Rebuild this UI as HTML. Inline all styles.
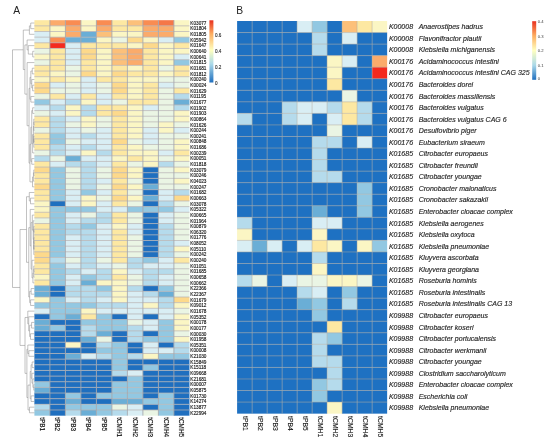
<!DOCTYPE html><html><head><meta charset="utf-8"><style>html,body{margin:0;padding:0;background:#fff;width:550px;height:442px;overflow:hidden}svg{display:block;will-change:transform}text{font-family:"Liberation Sans",sans-serif}</style></head><body>
<svg width="550" height="442" viewBox="0 0 550 442">
<rect x="0" y="0" width="550" height="442" fill="#fff"/>
<text x="13.3" y="13.6" font-size="10.3" fill="#222">A</text>
<text x="236.3" y="13.9" font-size="10.3" fill="#222">B</text>
<rect x="34.40" y="20.20" width="15.55" height="5.70" fill="#fde8a2"/>
<rect x="49.90" y="20.20" width="15.55" height="5.70" fill="#fbab6b"/>
<rect x="65.40" y="20.20" width="15.55" height="5.70" fill="#f98c52"/>
<rect x="80.90" y="20.20" width="15.55" height="5.70" fill="#fbf6c4"/>
<rect x="96.40" y="20.20" width="15.55" height="5.70" fill="#f98c52"/>
<rect x="111.90" y="20.20" width="15.55" height="5.70" fill="#fde8a2"/>
<rect x="127.40" y="20.20" width="15.55" height="5.70" fill="#fcc07a"/>
<rect x="142.90" y="20.20" width="15.55" height="5.70" fill="#f98c52"/>
<rect x="158.40" y="20.20" width="15.55" height="5.70" fill="#f57748"/>
<rect x="173.90" y="20.20" width="15.55" height="5.70" fill="#fbf6c4"/>
<rect x="34.40" y="25.85" width="15.55" height="5.70" fill="#fde8a2"/>
<rect x="49.90" y="25.85" width="15.55" height="5.70" fill="#fbf6c4"/>
<rect x="65.40" y="25.85" width="15.55" height="5.70" fill="#fbab6b"/>
<rect x="80.90" y="25.85" width="15.55" height="5.70" fill="#fbf6c4"/>
<rect x="96.40" y="25.85" width="15.55" height="5.70" fill="#fbab6b"/>
<rect x="111.90" y="25.85" width="15.55" height="5.70" fill="#fde8a2"/>
<rect x="127.40" y="25.85" width="15.55" height="5.70" fill="#fde8a2"/>
<rect x="142.90" y="25.85" width="15.55" height="5.70" fill="#fbab6b"/>
<rect x="158.40" y="25.85" width="15.55" height="5.70" fill="#fbab6b"/>
<rect x="173.90" y="25.85" width="15.55" height="5.70" fill="#fbf6c4"/>
<rect x="34.40" y="31.50" width="15.55" height="5.70" fill="#d9eef4"/>
<rect x="49.90" y="31.50" width="15.55" height="5.70" fill="#fbf6c4"/>
<rect x="65.40" y="31.50" width="15.55" height="5.70" fill="#fbab6b"/>
<rect x="80.90" y="31.50" width="15.55" height="5.70" fill="#6aaed6"/>
<rect x="96.40" y="31.50" width="15.55" height="5.70" fill="#fcc07a"/>
<rect x="111.90" y="31.50" width="15.55" height="5.70" fill="#fbf6c4"/>
<rect x="127.40" y="31.50" width="15.55" height="5.70" fill="#fbf6c4"/>
<rect x="142.90" y="31.50" width="15.55" height="5.70" fill="#fbab6b"/>
<rect x="158.40" y="31.50" width="15.55" height="5.70" fill="#fbab6b"/>
<rect x="173.90" y="31.50" width="15.55" height="5.70" fill="#fbf6c4"/>
<rect x="34.40" y="37.15" width="15.55" height="5.70" fill="#d9eef4"/>
<rect x="49.90" y="37.15" width="15.55" height="5.70" fill="#f98c52"/>
<rect x="65.40" y="37.15" width="15.55" height="5.70" fill="#6aaed6"/>
<rect x="80.90" y="37.15" width="15.55" height="5.70" fill="#6aaed6"/>
<rect x="96.40" y="37.15" width="15.55" height="5.70" fill="#fbf6c4"/>
<rect x="111.90" y="37.15" width="15.55" height="5.70" fill="#eaf5e4"/>
<rect x="127.40" y="37.15" width="15.55" height="5.70" fill="#fdd98b"/>
<rect x="142.90" y="37.15" width="15.55" height="5.70" fill="#fbf6c4"/>
<rect x="158.40" y="37.15" width="15.55" height="5.70" fill="#d9eef4"/>
<rect x="173.90" y="37.15" width="15.55" height="5.70" fill="#92c8e2"/>
<rect x="34.40" y="42.80" width="15.55" height="5.70" fill="#fde8a2"/>
<rect x="49.90" y="42.80" width="15.55" height="5.70" fill="#f42a1e"/>
<rect x="65.40" y="42.80" width="15.55" height="5.70" fill="#d9eef4"/>
<rect x="80.90" y="42.80" width="15.55" height="5.70" fill="#fde8a2"/>
<rect x="96.40" y="42.80" width="15.55" height="5.70" fill="#fde8a2"/>
<rect x="111.90" y="42.80" width="15.55" height="5.70" fill="#fde8a2"/>
<rect x="127.40" y="42.80" width="15.55" height="5.70" fill="#fbf6c4"/>
<rect x="142.90" y="42.80" width="15.55" height="5.70" fill="#fdd98b"/>
<rect x="158.40" y="42.80" width="15.55" height="5.70" fill="#fbf6c4"/>
<rect x="173.90" y="42.80" width="15.55" height="5.70" fill="#fde8a2"/>
<rect x="34.40" y="48.45" width="15.55" height="5.70" fill="#eaf5e4"/>
<rect x="49.90" y="48.45" width="15.55" height="5.70" fill="#fde8a2"/>
<rect x="65.40" y="48.45" width="15.55" height="5.70" fill="#d9eef4"/>
<rect x="80.90" y="48.45" width="15.55" height="5.70" fill="#fdd98b"/>
<rect x="96.40" y="48.45" width="15.55" height="5.70" fill="#fbf6c4"/>
<rect x="111.90" y="48.45" width="15.55" height="5.70" fill="#fcc07a"/>
<rect x="127.40" y="48.45" width="15.55" height="5.70" fill="#fbab6b"/>
<rect x="142.90" y="48.45" width="15.55" height="5.70" fill="#fde8a2"/>
<rect x="158.40" y="48.45" width="15.55" height="5.70" fill="#fbf6c4"/>
<rect x="173.90" y="48.45" width="15.55" height="5.70" fill="#fbf6c4"/>
<rect x="34.40" y="54.09" width="15.55" height="5.70" fill="#fbf6c4"/>
<rect x="49.90" y="54.09" width="15.55" height="5.70" fill="#fde8a2"/>
<rect x="65.40" y="54.09" width="15.55" height="5.70" fill="#d9eef4"/>
<rect x="80.90" y="54.09" width="15.55" height="5.70" fill="#fdd98b"/>
<rect x="96.40" y="54.09" width="15.55" height="5.70" fill="#fbf6c4"/>
<rect x="111.90" y="54.09" width="15.55" height="5.70" fill="#fcc07a"/>
<rect x="127.40" y="54.09" width="15.55" height="5.70" fill="#fbab6b"/>
<rect x="142.90" y="54.09" width="15.55" height="5.70" fill="#fde8a2"/>
<rect x="158.40" y="54.09" width="15.55" height="5.70" fill="#fbf6c4"/>
<rect x="173.90" y="54.09" width="15.55" height="5.70" fill="#d9eef4"/>
<rect x="34.40" y="59.74" width="15.55" height="5.70" fill="#eaf5e4"/>
<rect x="49.90" y="59.74" width="15.55" height="5.70" fill="#fde8a2"/>
<rect x="65.40" y="59.74" width="15.55" height="5.70" fill="#d9eef4"/>
<rect x="80.90" y="59.74" width="15.55" height="5.70" fill="#fde8a2"/>
<rect x="96.40" y="59.74" width="15.55" height="5.70" fill="#fbf6c4"/>
<rect x="111.90" y="59.74" width="15.55" height="5.70" fill="#fcc07a"/>
<rect x="127.40" y="59.74" width="15.55" height="5.70" fill="#fbab6b"/>
<rect x="142.90" y="59.74" width="15.55" height="5.70" fill="#fde8a2"/>
<rect x="158.40" y="59.74" width="15.55" height="5.70" fill="#fbf6c4"/>
<rect x="173.90" y="59.74" width="15.55" height="5.70" fill="#92c8e2"/>
<rect x="34.40" y="65.39" width="15.55" height="5.70" fill="#fde8a2"/>
<rect x="49.90" y="65.39" width="15.55" height="5.70" fill="#fde8a2"/>
<rect x="65.40" y="65.39" width="15.55" height="5.70" fill="#eaf5e4"/>
<rect x="80.90" y="65.39" width="15.55" height="5.70" fill="#fde8a2"/>
<rect x="96.40" y="65.39" width="15.55" height="5.70" fill="#fbf6c4"/>
<rect x="111.90" y="65.39" width="15.55" height="5.70" fill="#fde8a2"/>
<rect x="127.40" y="65.39" width="15.55" height="5.70" fill="#fbf6c4"/>
<rect x="142.90" y="65.39" width="15.55" height="5.70" fill="#fde8a2"/>
<rect x="158.40" y="65.39" width="15.55" height="5.70" fill="#eaf5e4"/>
<rect x="173.90" y="65.39" width="15.55" height="5.70" fill="#fde8a2"/>
<rect x="34.40" y="71.04" width="15.55" height="5.70" fill="#fde8a2"/>
<rect x="49.90" y="71.04" width="15.55" height="5.70" fill="#fbf6c4"/>
<rect x="65.40" y="71.04" width="15.55" height="5.70" fill="#eaf5e4"/>
<rect x="80.90" y="71.04" width="15.55" height="5.70" fill="#fdd98b"/>
<rect x="96.40" y="71.04" width="15.55" height="5.70" fill="#fbf6c4"/>
<rect x="111.90" y="71.04" width="15.55" height="5.70" fill="#fdd98b"/>
<rect x="127.40" y="71.04" width="15.55" height="5.70" fill="#fde8a2"/>
<rect x="142.90" y="71.04" width="15.55" height="5.70" fill="#fde8a2"/>
<rect x="158.40" y="71.04" width="15.55" height="5.70" fill="#fbf6c4"/>
<rect x="173.90" y="71.04" width="15.55" height="5.70" fill="#fde8a2"/>
<rect x="34.40" y="76.69" width="15.55" height="5.70" fill="#fbf6c4"/>
<rect x="49.90" y="76.69" width="15.55" height="5.70" fill="#fde8a2"/>
<rect x="65.40" y="76.69" width="15.55" height="5.70" fill="#fbf6c4"/>
<rect x="80.90" y="76.69" width="15.55" height="5.70" fill="#d9eef4"/>
<rect x="96.40" y="76.69" width="15.55" height="5.70" fill="#fde8a2"/>
<rect x="111.90" y="76.69" width="15.55" height="5.70" fill="#fde8a2"/>
<rect x="127.40" y="76.69" width="15.55" height="5.70" fill="#fbf6c4"/>
<rect x="142.90" y="76.69" width="15.55" height="5.70" fill="#fbf6c4"/>
<rect x="158.40" y="76.69" width="15.55" height="5.70" fill="#eaf5e4"/>
<rect x="173.90" y="76.69" width="15.55" height="5.70" fill="#eaf5e4"/>
<rect x="34.40" y="82.34" width="15.55" height="5.70" fill="#fdd98b"/>
<rect x="49.90" y="82.34" width="15.55" height="5.70" fill="#d9eef4"/>
<rect x="65.40" y="82.34" width="15.55" height="5.70" fill="#eaf5e4"/>
<rect x="80.90" y="82.34" width="15.55" height="5.70" fill="#d9eef4"/>
<rect x="96.40" y="82.34" width="15.55" height="5.70" fill="#eaf5e4"/>
<rect x="111.90" y="82.34" width="15.55" height="5.70" fill="#fdd98b"/>
<rect x="127.40" y="82.34" width="15.55" height="5.70" fill="#fbf6c4"/>
<rect x="142.90" y="82.34" width="15.55" height="5.70" fill="#fde8a2"/>
<rect x="158.40" y="82.34" width="15.55" height="5.70" fill="#d9eef4"/>
<rect x="173.90" y="82.34" width="15.55" height="5.70" fill="#eaf5e4"/>
<rect x="34.40" y="87.99" width="15.55" height="5.70" fill="#fdd98b"/>
<rect x="49.90" y="87.99" width="15.55" height="5.70" fill="#eaf5e4"/>
<rect x="65.40" y="87.99" width="15.55" height="5.70" fill="#eaf5e4"/>
<rect x="80.90" y="87.99" width="15.55" height="5.70" fill="#d9eef4"/>
<rect x="96.40" y="87.99" width="15.55" height="5.70" fill="#eaf5e4"/>
<rect x="111.90" y="87.99" width="15.55" height="5.70" fill="#fdd98b"/>
<rect x="127.40" y="87.99" width="15.55" height="5.70" fill="#fbf6c4"/>
<rect x="142.90" y="87.99" width="15.55" height="5.70" fill="#fde8a2"/>
<rect x="158.40" y="87.99" width="15.55" height="5.70" fill="#eaf5e4"/>
<rect x="173.90" y="87.99" width="15.55" height="5.70" fill="#fde8a2"/>
<rect x="34.40" y="93.64" width="15.55" height="5.70" fill="#eaf5e4"/>
<rect x="49.90" y="93.64" width="15.55" height="5.70" fill="#fde8a2"/>
<rect x="65.40" y="93.64" width="15.55" height="5.70" fill="#d9eef4"/>
<rect x="80.90" y="93.64" width="15.55" height="5.70" fill="#fde8a2"/>
<rect x="96.40" y="93.64" width="15.55" height="5.70" fill="#d9eef4"/>
<rect x="111.90" y="93.64" width="15.55" height="5.70" fill="#fde8a2"/>
<rect x="127.40" y="93.64" width="15.55" height="5.70" fill="#fbf6c4"/>
<rect x="142.90" y="93.64" width="15.55" height="5.70" fill="#fde8a2"/>
<rect x="158.40" y="93.64" width="15.55" height="5.70" fill="#eaf5e4"/>
<rect x="173.90" y="93.64" width="15.55" height="5.70" fill="#b5dbec"/>
<rect x="34.40" y="99.29" width="15.55" height="5.70" fill="#92c8e2"/>
<rect x="49.90" y="99.29" width="15.55" height="5.70" fill="#d9eef4"/>
<rect x="65.40" y="99.29" width="15.55" height="5.70" fill="#b5dbec"/>
<rect x="80.90" y="99.29" width="15.55" height="5.70" fill="#fbf6c4"/>
<rect x="96.40" y="99.29" width="15.55" height="5.70" fill="#d9eef4"/>
<rect x="111.90" y="99.29" width="15.55" height="5.70" fill="#eaf5e4"/>
<rect x="127.40" y="99.29" width="15.55" height="5.70" fill="#fde8a2"/>
<rect x="142.90" y="99.29" width="15.55" height="5.70" fill="#fde8a2"/>
<rect x="158.40" y="99.29" width="15.55" height="5.70" fill="#eaf5e4"/>
<rect x="173.90" y="99.29" width="15.55" height="5.70" fill="#6aaed6"/>
<rect x="34.40" y="104.94" width="15.55" height="5.70" fill="#d9eef4"/>
<rect x="49.90" y="104.94" width="15.55" height="5.70" fill="#b5dbec"/>
<rect x="65.40" y="104.94" width="15.55" height="5.70" fill="#fbf6c4"/>
<rect x="80.90" y="104.94" width="15.55" height="5.70" fill="#b5dbec"/>
<rect x="96.40" y="104.94" width="15.55" height="5.70" fill="#fde8a2"/>
<rect x="111.90" y="104.94" width="15.55" height="5.70" fill="#fde8a2"/>
<rect x="127.40" y="104.94" width="15.55" height="5.70" fill="#fbf6c4"/>
<rect x="142.90" y="104.94" width="15.55" height="5.70" fill="#d9eef4"/>
<rect x="158.40" y="104.94" width="15.55" height="5.70" fill="#eaf5e4"/>
<rect x="173.90" y="104.94" width="15.55" height="5.70" fill="#b5dbec"/>
<rect x="34.40" y="110.58" width="15.55" height="5.70" fill="#eaf5e4"/>
<rect x="49.90" y="110.58" width="15.55" height="5.70" fill="#d9eef4"/>
<rect x="65.40" y="110.58" width="15.55" height="5.70" fill="#fbf6c4"/>
<rect x="80.90" y="110.58" width="15.55" height="5.70" fill="#b5dbec"/>
<rect x="96.40" y="110.58" width="15.55" height="5.70" fill="#fde8a2"/>
<rect x="111.90" y="110.58" width="15.55" height="5.70" fill="#fdd98b"/>
<rect x="127.40" y="110.58" width="15.55" height="5.70" fill="#fbf6c4"/>
<rect x="142.90" y="110.58" width="15.55" height="5.70" fill="#eaf5e4"/>
<rect x="158.40" y="110.58" width="15.55" height="5.70" fill="#eaf5e4"/>
<rect x="173.90" y="110.58" width="15.55" height="5.70" fill="#fbf6c4"/>
<rect x="34.40" y="116.23" width="15.55" height="5.70" fill="#fde8a2"/>
<rect x="49.90" y="116.23" width="15.55" height="5.70" fill="#b5dbec"/>
<rect x="65.40" y="116.23" width="15.55" height="5.70" fill="#d9eef4"/>
<rect x="80.90" y="116.23" width="15.55" height="5.70" fill="#fbf6c4"/>
<rect x="96.40" y="116.23" width="15.55" height="5.70" fill="#eaf5e4"/>
<rect x="111.90" y="116.23" width="15.55" height="5.70" fill="#fde8a2"/>
<rect x="127.40" y="116.23" width="15.55" height="5.70" fill="#fbf6c4"/>
<rect x="142.90" y="116.23" width="15.55" height="5.70" fill="#eaf5e4"/>
<rect x="158.40" y="116.23" width="15.55" height="5.70" fill="#eaf5e4"/>
<rect x="173.90" y="116.23" width="15.55" height="5.70" fill="#fbf6c4"/>
<rect x="34.40" y="121.88" width="15.55" height="5.70" fill="#fde8a2"/>
<rect x="49.90" y="121.88" width="15.55" height="5.70" fill="#b5dbec"/>
<rect x="65.40" y="121.88" width="15.55" height="5.70" fill="#eaf5e4"/>
<rect x="80.90" y="121.88" width="15.55" height="5.70" fill="#fbf6c4"/>
<rect x="96.40" y="121.88" width="15.55" height="5.70" fill="#eaf5e4"/>
<rect x="111.90" y="121.88" width="15.55" height="5.70" fill="#fde8a2"/>
<rect x="127.40" y="121.88" width="15.55" height="5.70" fill="#fbf6c4"/>
<rect x="142.90" y="121.88" width="15.55" height="5.70" fill="#eaf5e4"/>
<rect x="158.40" y="121.88" width="15.55" height="5.70" fill="#fbf6c4"/>
<rect x="173.90" y="121.88" width="15.55" height="5.70" fill="#eaf5e4"/>
<rect x="34.40" y="127.53" width="15.55" height="5.70" fill="#eaf5e4"/>
<rect x="49.90" y="127.53" width="15.55" height="5.70" fill="#b5dbec"/>
<rect x="65.40" y="127.53" width="15.55" height="5.70" fill="#d9eef4"/>
<rect x="80.90" y="127.53" width="15.55" height="5.70" fill="#eaf5e4"/>
<rect x="96.40" y="127.53" width="15.55" height="5.70" fill="#d9eef4"/>
<rect x="111.90" y="127.53" width="15.55" height="5.70" fill="#fde8a2"/>
<rect x="127.40" y="127.53" width="15.55" height="5.70" fill="#fbf6c4"/>
<rect x="142.90" y="127.53" width="15.55" height="5.70" fill="#d9eef4"/>
<rect x="158.40" y="127.53" width="15.55" height="5.70" fill="#fbf6c4"/>
<rect x="173.90" y="127.53" width="15.55" height="5.70" fill="#d9eef4"/>
<rect x="34.40" y="133.18" width="15.55" height="5.70" fill="#fde8a2"/>
<rect x="49.90" y="133.18" width="15.55" height="5.70" fill="#92c8e2"/>
<rect x="65.40" y="133.18" width="15.55" height="5.70" fill="#d9eef4"/>
<rect x="80.90" y="133.18" width="15.55" height="5.70" fill="#b5dbec"/>
<rect x="96.40" y="133.18" width="15.55" height="5.70" fill="#d9eef4"/>
<rect x="111.90" y="133.18" width="15.55" height="5.70" fill="#fde8a2"/>
<rect x="127.40" y="133.18" width="15.55" height="5.70" fill="#fbf6c4"/>
<rect x="142.90" y="133.18" width="15.55" height="5.70" fill="#d9eef4"/>
<rect x="158.40" y="133.18" width="15.55" height="5.70" fill="#eaf5e4"/>
<rect x="173.90" y="133.18" width="15.55" height="5.70" fill="#eaf5e4"/>
<rect x="34.40" y="138.83" width="15.55" height="5.70" fill="#fde8a2"/>
<rect x="49.90" y="138.83" width="15.55" height="5.70" fill="#92c8e2"/>
<rect x="65.40" y="138.83" width="15.55" height="5.70" fill="#eaf5e4"/>
<rect x="80.90" y="138.83" width="15.55" height="5.70" fill="#d9eef4"/>
<rect x="96.40" y="138.83" width="15.55" height="5.70" fill="#d9eef4"/>
<rect x="111.90" y="138.83" width="15.55" height="5.70" fill="#fdd98b"/>
<rect x="127.40" y="138.83" width="15.55" height="5.70" fill="#eaf5e4"/>
<rect x="142.90" y="138.83" width="15.55" height="5.70" fill="#d9eef4"/>
<rect x="158.40" y="138.83" width="15.55" height="5.70" fill="#eaf5e4"/>
<rect x="173.90" y="138.83" width="15.55" height="5.70" fill="#fbf6c4"/>
<rect x="34.40" y="144.48" width="15.55" height="5.70" fill="#fde8a2"/>
<rect x="49.90" y="144.48" width="15.55" height="5.70" fill="#b5dbec"/>
<rect x="65.40" y="144.48" width="15.55" height="5.70" fill="#d9eef4"/>
<rect x="80.90" y="144.48" width="15.55" height="5.70" fill="#b5dbec"/>
<rect x="96.40" y="144.48" width="15.55" height="5.70" fill="#d9eef4"/>
<rect x="111.90" y="144.48" width="15.55" height="5.70" fill="#fde8a2"/>
<rect x="127.40" y="144.48" width="15.55" height="5.70" fill="#fbf6c4"/>
<rect x="142.90" y="144.48" width="15.55" height="5.70" fill="#eaf5e4"/>
<rect x="158.40" y="144.48" width="15.55" height="5.70" fill="#eaf5e4"/>
<rect x="173.90" y="144.48" width="15.55" height="5.70" fill="#fbf6c4"/>
<rect x="34.40" y="150.13" width="15.55" height="5.70" fill="#eaf5e4"/>
<rect x="49.90" y="150.13" width="15.55" height="5.70" fill="#b5dbec"/>
<rect x="65.40" y="150.13" width="15.55" height="5.70" fill="#d9eef4"/>
<rect x="80.90" y="150.13" width="15.55" height="5.70" fill="#fbf6c4"/>
<rect x="96.40" y="150.13" width="15.55" height="5.70" fill="#b5dbec"/>
<rect x="111.90" y="150.13" width="15.55" height="5.70" fill="#fde8a2"/>
<rect x="127.40" y="150.13" width="15.55" height="5.70" fill="#fbf6c4"/>
<rect x="142.90" y="150.13" width="15.55" height="5.70" fill="#fbf6c4"/>
<rect x="158.40" y="150.13" width="15.55" height="5.70" fill="#d9eef4"/>
<rect x="173.90" y="150.13" width="15.55" height="5.70" fill="#fde8a2"/>
<rect x="34.40" y="155.78" width="15.55" height="5.70" fill="#b5dbec"/>
<rect x="49.90" y="155.78" width="15.55" height="5.70" fill="#eaf5e4"/>
<rect x="65.40" y="155.78" width="15.55" height="5.70" fill="#6aaed6"/>
<rect x="80.90" y="155.78" width="15.55" height="5.70" fill="#d9eef4"/>
<rect x="96.40" y="155.78" width="15.55" height="5.70" fill="#d9eef4"/>
<rect x="111.90" y="155.78" width="15.55" height="5.70" fill="#fbf6c4"/>
<rect x="127.40" y="155.78" width="15.55" height="5.70" fill="#fde8a2"/>
<rect x="142.90" y="155.78" width="15.55" height="5.70" fill="#fbf6c4"/>
<rect x="158.40" y="155.78" width="15.55" height="5.70" fill="#eaf5e4"/>
<rect x="173.90" y="155.78" width="15.55" height="5.70" fill="#fbf6c4"/>
<rect x="34.40" y="161.42" width="15.55" height="5.70" fill="#fde8a2"/>
<rect x="49.90" y="161.42" width="15.55" height="5.70" fill="#d9eef4"/>
<rect x="65.40" y="161.42" width="15.55" height="5.70" fill="#b5dbec"/>
<rect x="80.90" y="161.42" width="15.55" height="5.70" fill="#b5dbec"/>
<rect x="96.40" y="161.42" width="15.55" height="5.70" fill="#d9eef4"/>
<rect x="111.90" y="161.42" width="15.55" height="5.70" fill="#fde8a2"/>
<rect x="127.40" y="161.42" width="15.55" height="5.70" fill="#eaf5e4"/>
<rect x="142.90" y="161.42" width="15.55" height="5.70" fill="#fbf6c4"/>
<rect x="158.40" y="161.42" width="15.55" height="5.70" fill="#b5dbec"/>
<rect x="173.90" y="161.42" width="15.55" height="5.70" fill="#eaf5e4"/>
<rect x="34.40" y="167.07" width="15.55" height="5.70" fill="#fdd98b"/>
<rect x="49.90" y="167.07" width="15.55" height="5.70" fill="#92c8e2"/>
<rect x="65.40" y="167.07" width="15.55" height="5.70" fill="#eaf5e4"/>
<rect x="80.90" y="167.07" width="15.55" height="5.70" fill="#b5dbec"/>
<rect x="96.40" y="167.07" width="15.55" height="5.70" fill="#eaf5e4"/>
<rect x="111.90" y="167.07" width="15.55" height="5.70" fill="#fdd98b"/>
<rect x="127.40" y="167.07" width="15.55" height="5.70" fill="#fbf6c4"/>
<rect x="142.90" y="167.07" width="15.55" height="5.70" fill="#1f6fbf"/>
<rect x="158.40" y="167.07" width="15.55" height="5.70" fill="#eaf5e4"/>
<rect x="173.90" y="167.07" width="15.55" height="5.70" fill="#fbf6c4"/>
<rect x="34.40" y="172.72" width="15.55" height="5.70" fill="#fde8a2"/>
<rect x="49.90" y="172.72" width="15.55" height="5.70" fill="#92c8e2"/>
<rect x="65.40" y="172.72" width="15.55" height="5.70" fill="#eaf5e4"/>
<rect x="80.90" y="172.72" width="15.55" height="5.70" fill="#b5dbec"/>
<rect x="96.40" y="172.72" width="15.55" height="5.70" fill="#eaf5e4"/>
<rect x="111.90" y="172.72" width="15.55" height="5.70" fill="#fdd98b"/>
<rect x="127.40" y="172.72" width="15.55" height="5.70" fill="#fbf6c4"/>
<rect x="142.90" y="172.72" width="15.55" height="5.70" fill="#1f6fbf"/>
<rect x="158.40" y="172.72" width="15.55" height="5.70" fill="#eaf5e4"/>
<rect x="173.90" y="172.72" width="15.55" height="5.70" fill="#eaf5e4"/>
<rect x="34.40" y="178.37" width="15.55" height="5.70" fill="#fde8a2"/>
<rect x="49.90" y="178.37" width="15.55" height="5.70" fill="#92c8e2"/>
<rect x="65.40" y="178.37" width="15.55" height="5.70" fill="#eaf5e4"/>
<rect x="80.90" y="178.37" width="15.55" height="5.70" fill="#b5dbec"/>
<rect x="96.40" y="178.37" width="15.55" height="5.70" fill="#d9eef4"/>
<rect x="111.90" y="178.37" width="15.55" height="5.70" fill="#fde8a2"/>
<rect x="127.40" y="178.37" width="15.55" height="5.70" fill="#eaf5e4"/>
<rect x="142.90" y="178.37" width="15.55" height="5.70" fill="#1f6fbf"/>
<rect x="158.40" y="178.37" width="15.55" height="5.70" fill="#eaf5e4"/>
<rect x="173.90" y="178.37" width="15.55" height="5.70" fill="#fbf6c4"/>
<rect x="34.40" y="184.02" width="15.55" height="5.70" fill="#fdd98b"/>
<rect x="49.90" y="184.02" width="15.55" height="5.70" fill="#92c8e2"/>
<rect x="65.40" y="184.02" width="15.55" height="5.70" fill="#eaf5e4"/>
<rect x="80.90" y="184.02" width="15.55" height="5.70" fill="#b5dbec"/>
<rect x="96.40" y="184.02" width="15.55" height="5.70" fill="#eaf5e4"/>
<rect x="111.90" y="184.02" width="15.55" height="5.70" fill="#fdd98b"/>
<rect x="127.40" y="184.02" width="15.55" height="5.70" fill="#fbf6c4"/>
<rect x="142.90" y="184.02" width="15.55" height="5.70" fill="#6aaed6"/>
<rect x="158.40" y="184.02" width="15.55" height="5.70" fill="#eaf5e4"/>
<rect x="173.90" y="184.02" width="15.55" height="5.70" fill="#eaf5e4"/>
<rect x="34.40" y="189.67" width="15.55" height="5.70" fill="#fde8a2"/>
<rect x="49.90" y="189.67" width="15.55" height="5.70" fill="#92c8e2"/>
<rect x="65.40" y="189.67" width="15.55" height="5.70" fill="#d9eef4"/>
<rect x="80.90" y="189.67" width="15.55" height="5.70" fill="#92c8e2"/>
<rect x="96.40" y="189.67" width="15.55" height="5.70" fill="#d9eef4"/>
<rect x="111.90" y="189.67" width="15.55" height="5.70" fill="#fde8a2"/>
<rect x="127.40" y="189.67" width="15.55" height="5.70" fill="#eaf5e4"/>
<rect x="142.90" y="189.67" width="15.55" height="5.70" fill="#1f6fbf"/>
<rect x="158.40" y="189.67" width="15.55" height="5.70" fill="#d9eef4"/>
<rect x="173.90" y="189.67" width="15.55" height="5.70" fill="#b5dbec"/>
<rect x="34.40" y="195.32" width="15.55" height="5.70" fill="#fde8a2"/>
<rect x="49.90" y="195.32" width="15.55" height="5.70" fill="#92c8e2"/>
<rect x="65.40" y="195.32" width="15.55" height="5.70" fill="#d9eef4"/>
<rect x="80.90" y="195.32" width="15.55" height="5.70" fill="#fbf6c4"/>
<rect x="96.40" y="195.32" width="15.55" height="5.70" fill="#eaf5e4"/>
<rect x="111.90" y="195.32" width="15.55" height="5.70" fill="#fdd98b"/>
<rect x="127.40" y="195.32" width="15.55" height="5.70" fill="#fbf6c4"/>
<rect x="142.90" y="195.32" width="15.55" height="5.70" fill="#6aaed6"/>
<rect x="158.40" y="195.32" width="15.55" height="5.70" fill="#d9eef4"/>
<rect x="173.90" y="195.32" width="15.55" height="5.70" fill="#fdd98b"/>
<rect x="34.40" y="200.97" width="15.55" height="5.70" fill="#fbf6c4"/>
<rect x="49.90" y="200.97" width="15.55" height="5.70" fill="#1f6fbf"/>
<rect x="65.40" y="200.97" width="15.55" height="5.70" fill="#d9eef4"/>
<rect x="80.90" y="200.97" width="15.55" height="5.70" fill="#fbf6c4"/>
<rect x="96.40" y="200.97" width="15.55" height="5.70" fill="#d9eef4"/>
<rect x="111.90" y="200.97" width="15.55" height="5.70" fill="#fde8a2"/>
<rect x="127.40" y="200.97" width="15.55" height="5.70" fill="#eaf5e4"/>
<rect x="142.90" y="200.97" width="15.55" height="5.70" fill="#1f6fbf"/>
<rect x="158.40" y="200.97" width="15.55" height="5.70" fill="#b5dbec"/>
<rect x="173.90" y="200.97" width="15.55" height="5.70" fill="#eaf5e4"/>
<rect x="34.40" y="206.62" width="15.55" height="5.70" fill="#fbf6c4"/>
<rect x="49.90" y="206.62" width="15.55" height="5.70" fill="#92c8e2"/>
<rect x="65.40" y="206.62" width="15.55" height="5.70" fill="#92c8e2"/>
<rect x="80.90" y="206.62" width="15.55" height="5.70" fill="#92c8e2"/>
<rect x="96.40" y="206.62" width="15.55" height="5.70" fill="#d9eef4"/>
<rect x="111.90" y="206.62" width="15.55" height="5.70" fill="#d9eef4"/>
<rect x="127.40" y="206.62" width="15.55" height="5.70" fill="#92c8e2"/>
<rect x="142.90" y="206.62" width="15.55" height="5.70" fill="#92c8e2"/>
<rect x="158.40" y="206.62" width="15.55" height="5.70" fill="#92c8e2"/>
<rect x="173.90" y="206.62" width="15.55" height="5.70" fill="#d9eef4"/>
<rect x="34.40" y="212.27" width="15.55" height="5.70" fill="#fde8a2"/>
<rect x="49.90" y="212.27" width="15.55" height="5.70" fill="#92c8e2"/>
<rect x="65.40" y="212.27" width="15.55" height="5.70" fill="#d9eef4"/>
<rect x="80.90" y="212.27" width="15.55" height="5.70" fill="#eaf5e4"/>
<rect x="96.40" y="212.27" width="15.55" height="5.70" fill="#b5dbec"/>
<rect x="111.90" y="212.27" width="15.55" height="5.70" fill="#fde8a2"/>
<rect x="127.40" y="212.27" width="15.55" height="5.70" fill="#eaf5e4"/>
<rect x="142.90" y="212.27" width="15.55" height="5.70" fill="#1f6fbf"/>
<rect x="158.40" y="212.27" width="15.55" height="5.70" fill="#d9eef4"/>
<rect x="173.90" y="212.27" width="15.55" height="5.70" fill="#eaf5e4"/>
<rect x="34.40" y="217.91" width="15.55" height="5.70" fill="#eaf5e4"/>
<rect x="49.90" y="217.91" width="15.55" height="5.70" fill="#92c8e2"/>
<rect x="65.40" y="217.91" width="15.55" height="5.70" fill="#d9eef4"/>
<rect x="80.90" y="217.91" width="15.55" height="5.70" fill="#b5dbec"/>
<rect x="96.40" y="217.91" width="15.55" height="5.70" fill="#b5dbec"/>
<rect x="111.90" y="217.91" width="15.55" height="5.70" fill="#fde8a2"/>
<rect x="127.40" y="217.91" width="15.55" height="5.70" fill="#eaf5e4"/>
<rect x="142.90" y="217.91" width="15.55" height="5.70" fill="#1f6fbf"/>
<rect x="158.40" y="217.91" width="15.55" height="5.70" fill="#d9eef4"/>
<rect x="173.90" y="217.91" width="15.55" height="5.70" fill="#eaf5e4"/>
<rect x="34.40" y="223.56" width="15.55" height="5.70" fill="#fde8a2"/>
<rect x="49.90" y="223.56" width="15.55" height="5.70" fill="#92c8e2"/>
<rect x="65.40" y="223.56" width="15.55" height="5.70" fill="#b5dbec"/>
<rect x="80.90" y="223.56" width="15.55" height="5.70" fill="#92c8e2"/>
<rect x="96.40" y="223.56" width="15.55" height="5.70" fill="#d9eef4"/>
<rect x="111.90" y="223.56" width="15.55" height="5.70" fill="#fbf6c4"/>
<rect x="127.40" y="223.56" width="15.55" height="5.70" fill="#d9eef4"/>
<rect x="142.90" y="223.56" width="15.55" height="5.70" fill="#1f6fbf"/>
<rect x="158.40" y="223.56" width="15.55" height="5.70" fill="#b5dbec"/>
<rect x="173.90" y="223.56" width="15.55" height="5.70" fill="#eaf5e4"/>
<rect x="34.40" y="229.21" width="15.55" height="5.70" fill="#fde8a2"/>
<rect x="49.90" y="229.21" width="15.55" height="5.70" fill="#92c8e2"/>
<rect x="65.40" y="229.21" width="15.55" height="5.70" fill="#b5dbec"/>
<rect x="80.90" y="229.21" width="15.55" height="5.70" fill="#b5dbec"/>
<rect x="96.40" y="229.21" width="15.55" height="5.70" fill="#d9eef4"/>
<rect x="111.90" y="229.21" width="15.55" height="5.70" fill="#fde8a2"/>
<rect x="127.40" y="229.21" width="15.55" height="5.70" fill="#d9eef4"/>
<rect x="142.90" y="229.21" width="15.55" height="5.70" fill="#1f6fbf"/>
<rect x="158.40" y="229.21" width="15.55" height="5.70" fill="#b5dbec"/>
<rect x="173.90" y="229.21" width="15.55" height="5.70" fill="#eaf5e4"/>
<rect x="34.40" y="234.86" width="15.55" height="5.70" fill="#fde8a2"/>
<rect x="49.90" y="234.86" width="15.55" height="5.70" fill="#92c8e2"/>
<rect x="65.40" y="234.86" width="15.55" height="5.70" fill="#d9eef4"/>
<rect x="80.90" y="234.86" width="15.55" height="5.70" fill="#b5dbec"/>
<rect x="96.40" y="234.86" width="15.55" height="5.70" fill="#d9eef4"/>
<rect x="111.90" y="234.86" width="15.55" height="5.70" fill="#fde8a2"/>
<rect x="127.40" y="234.86" width="15.55" height="5.70" fill="#eaf5e4"/>
<rect x="142.90" y="234.86" width="15.55" height="5.70" fill="#1f6fbf"/>
<rect x="158.40" y="234.86" width="15.55" height="5.70" fill="#b5dbec"/>
<rect x="173.90" y="234.86" width="15.55" height="5.70" fill="#eaf5e4"/>
<rect x="34.40" y="240.51" width="15.55" height="5.70" fill="#fde8a2"/>
<rect x="49.90" y="240.51" width="15.55" height="5.70" fill="#92c8e2"/>
<rect x="65.40" y="240.51" width="15.55" height="5.70" fill="#d9eef4"/>
<rect x="80.90" y="240.51" width="15.55" height="5.70" fill="#b5dbec"/>
<rect x="96.40" y="240.51" width="15.55" height="5.70" fill="#d9eef4"/>
<rect x="111.90" y="240.51" width="15.55" height="5.70" fill="#fde8a2"/>
<rect x="127.40" y="240.51" width="15.55" height="5.70" fill="#eaf5e4"/>
<rect x="142.90" y="240.51" width="15.55" height="5.70" fill="#1f6fbf"/>
<rect x="158.40" y="240.51" width="15.55" height="5.70" fill="#b5dbec"/>
<rect x="173.90" y="240.51" width="15.55" height="5.70" fill="#d9eef4"/>
<rect x="34.40" y="246.16" width="15.55" height="5.70" fill="#fde8a2"/>
<rect x="49.90" y="246.16" width="15.55" height="5.70" fill="#92c8e2"/>
<rect x="65.40" y="246.16" width="15.55" height="5.70" fill="#d9eef4"/>
<rect x="80.90" y="246.16" width="15.55" height="5.70" fill="#b5dbec"/>
<rect x="96.40" y="246.16" width="15.55" height="5.70" fill="#d9eef4"/>
<rect x="111.90" y="246.16" width="15.55" height="5.70" fill="#fde8a2"/>
<rect x="127.40" y="246.16" width="15.55" height="5.70" fill="#eaf5e4"/>
<rect x="142.90" y="246.16" width="15.55" height="5.70" fill="#1f6fbf"/>
<rect x="158.40" y="246.16" width="15.55" height="5.70" fill="#b5dbec"/>
<rect x="173.90" y="246.16" width="15.55" height="5.70" fill="#fbf6c4"/>
<rect x="34.40" y="251.81" width="15.55" height="5.70" fill="#fdd98b"/>
<rect x="49.90" y="251.81" width="15.55" height="5.70" fill="#92c8e2"/>
<rect x="65.40" y="251.81" width="15.55" height="5.70" fill="#d9eef4"/>
<rect x="80.90" y="251.81" width="15.55" height="5.70" fill="#b5dbec"/>
<rect x="96.40" y="251.81" width="15.55" height="5.70" fill="#d9eef4"/>
<rect x="111.90" y="251.81" width="15.55" height="5.70" fill="#fde8a2"/>
<rect x="127.40" y="251.81" width="15.55" height="5.70" fill="#eaf5e4"/>
<rect x="142.90" y="251.81" width="15.55" height="5.70" fill="#1f6fbf"/>
<rect x="158.40" y="251.81" width="15.55" height="5.70" fill="#b5dbec"/>
<rect x="173.90" y="251.81" width="15.55" height="5.70" fill="#eaf5e4"/>
<rect x="34.40" y="257.46" width="15.55" height="5.70" fill="#fdd98b"/>
<rect x="49.90" y="257.46" width="15.55" height="5.70" fill="#b5dbec"/>
<rect x="65.40" y="257.46" width="15.55" height="5.70" fill="#eaf5e4"/>
<rect x="80.90" y="257.46" width="15.55" height="5.70" fill="#b5dbec"/>
<rect x="96.40" y="257.46" width="15.55" height="5.70" fill="#eaf5e4"/>
<rect x="111.90" y="257.46" width="15.55" height="5.70" fill="#fde8a2"/>
<rect x="127.40" y="257.46" width="15.55" height="5.70" fill="#b5dbec"/>
<rect x="142.90" y="257.46" width="15.55" height="5.70" fill="#92c8e2"/>
<rect x="158.40" y="257.46" width="15.55" height="5.70" fill="#d9eef4"/>
<rect x="173.90" y="257.46" width="15.55" height="5.70" fill="#fde8a2"/>
<rect x="34.40" y="263.11" width="15.55" height="5.70" fill="#fde8a2"/>
<rect x="49.90" y="263.11" width="15.55" height="5.70" fill="#92c8e2"/>
<rect x="65.40" y="263.11" width="15.55" height="5.70" fill="#d9eef4"/>
<rect x="80.90" y="263.11" width="15.55" height="5.70" fill="#b5dbec"/>
<rect x="96.40" y="263.11" width="15.55" height="5.70" fill="#d9eef4"/>
<rect x="111.90" y="263.11" width="15.55" height="5.70" fill="#eaf5e4"/>
<rect x="127.40" y="263.11" width="15.55" height="5.70" fill="#b5dbec"/>
<rect x="142.90" y="263.11" width="15.55" height="5.70" fill="#d9eef4"/>
<rect x="158.40" y="263.11" width="15.55" height="5.70" fill="#d9eef4"/>
<rect x="173.90" y="263.11" width="15.55" height="5.70" fill="#eaf5e4"/>
<rect x="34.40" y="268.76" width="15.55" height="5.70" fill="#fde8a2"/>
<rect x="49.90" y="268.76" width="15.55" height="5.70" fill="#92c8e2"/>
<rect x="65.40" y="268.76" width="15.55" height="5.70" fill="#b5dbec"/>
<rect x="80.90" y="268.76" width="15.55" height="5.70" fill="#d9eef4"/>
<rect x="96.40" y="268.76" width="15.55" height="5.70" fill="#b5dbec"/>
<rect x="111.90" y="268.76" width="15.55" height="5.70" fill="#fbf6c4"/>
<rect x="127.40" y="268.76" width="15.55" height="5.70" fill="#d9eef4"/>
<rect x="142.90" y="268.76" width="15.55" height="5.70" fill="#b5dbec"/>
<rect x="158.40" y="268.76" width="15.55" height="5.70" fill="#b5dbec"/>
<rect x="173.90" y="268.76" width="15.55" height="5.70" fill="#eaf5e4"/>
<rect x="34.40" y="274.41" width="15.55" height="5.70" fill="#fbf6c4"/>
<rect x="49.90" y="274.41" width="15.55" height="5.70" fill="#92c8e2"/>
<rect x="65.40" y="274.41" width="15.55" height="5.70" fill="#d9eef4"/>
<rect x="80.90" y="274.41" width="15.55" height="5.70" fill="#92c8e2"/>
<rect x="96.40" y="274.41" width="15.55" height="5.70" fill="#b5dbec"/>
<rect x="111.90" y="274.41" width="15.55" height="5.70" fill="#fde8a2"/>
<rect x="127.40" y="274.41" width="15.55" height="5.70" fill="#eaf5e4"/>
<rect x="142.90" y="274.41" width="15.55" height="5.70" fill="#b5dbec"/>
<rect x="158.40" y="274.41" width="15.55" height="5.70" fill="#d9eef4"/>
<rect x="173.90" y="274.41" width="15.55" height="5.70" fill="#eaf5e4"/>
<rect x="34.40" y="280.05" width="15.55" height="5.70" fill="#fde8a2"/>
<rect x="49.90" y="280.05" width="15.55" height="5.70" fill="#92c8e2"/>
<rect x="65.40" y="280.05" width="15.55" height="5.70" fill="#d9eef4"/>
<rect x="80.90" y="280.05" width="15.55" height="5.70" fill="#6aaed6"/>
<rect x="96.40" y="280.05" width="15.55" height="5.70" fill="#fbf6c4"/>
<rect x="111.90" y="280.05" width="15.55" height="5.70" fill="#fbf6c4"/>
<rect x="127.40" y="280.05" width="15.55" height="5.70" fill="#eaf5e4"/>
<rect x="142.90" y="280.05" width="15.55" height="5.70" fill="#b5dbec"/>
<rect x="158.40" y="280.05" width="15.55" height="5.70" fill="#d9eef4"/>
<rect x="173.90" y="280.05" width="15.55" height="5.70" fill="#eaf5e4"/>
<rect x="34.40" y="285.70" width="15.55" height="5.70" fill="#6aaed6"/>
<rect x="49.90" y="285.70" width="15.55" height="5.70" fill="#1f6fbf"/>
<rect x="65.40" y="285.70" width="15.55" height="5.70" fill="#b5dbec"/>
<rect x="80.90" y="285.70" width="15.55" height="5.70" fill="#b5dbec"/>
<rect x="96.40" y="285.70" width="15.55" height="5.70" fill="#92c8e2"/>
<rect x="111.90" y="285.70" width="15.55" height="5.70" fill="#fbf6c4"/>
<rect x="127.40" y="285.70" width="15.55" height="5.70" fill="#b5dbec"/>
<rect x="142.90" y="285.70" width="15.55" height="5.70" fill="#1f6fbf"/>
<rect x="158.40" y="285.70" width="15.55" height="5.70" fill="#92c8e2"/>
<rect x="173.90" y="285.70" width="15.55" height="5.70" fill="#eaf5e4"/>
<rect x="34.40" y="291.35" width="15.55" height="5.70" fill="#6aaed6"/>
<rect x="49.90" y="291.35" width="15.55" height="5.70" fill="#1f6fbf"/>
<rect x="65.40" y="291.35" width="15.55" height="5.70" fill="#b5dbec"/>
<rect x="80.90" y="291.35" width="15.55" height="5.70" fill="#b5dbec"/>
<rect x="96.40" y="291.35" width="15.55" height="5.70" fill="#b5dbec"/>
<rect x="111.90" y="291.35" width="15.55" height="5.70" fill="#fbf6c4"/>
<rect x="127.40" y="291.35" width="15.55" height="5.70" fill="#d9eef4"/>
<rect x="142.90" y="291.35" width="15.55" height="5.70" fill="#b5dbec"/>
<rect x="158.40" y="291.35" width="15.55" height="5.70" fill="#6aaed6"/>
<rect x="173.90" y="291.35" width="15.55" height="5.70" fill="#eaf5e4"/>
<rect x="34.40" y="297.00" width="15.55" height="5.70" fill="#fbf6c4"/>
<rect x="49.90" y="297.00" width="15.55" height="5.70" fill="#92c8e2"/>
<rect x="65.40" y="297.00" width="15.55" height="5.70" fill="#d9eef4"/>
<rect x="80.90" y="297.00" width="15.55" height="5.70" fill="#b5dbec"/>
<rect x="96.40" y="297.00" width="15.55" height="5.70" fill="#d9eef4"/>
<rect x="111.90" y="297.00" width="15.55" height="5.70" fill="#fbf6c4"/>
<rect x="127.40" y="297.00" width="15.55" height="5.70" fill="#d9eef4"/>
<rect x="142.90" y="297.00" width="15.55" height="5.70" fill="#d9eef4"/>
<rect x="158.40" y="297.00" width="15.55" height="5.70" fill="#b5dbec"/>
<rect x="173.90" y="297.00" width="15.55" height="5.70" fill="#fdd98b"/>
<rect x="34.40" y="302.65" width="15.55" height="5.70" fill="#92c8e2"/>
<rect x="49.90" y="302.65" width="15.55" height="5.70" fill="#92c8e2"/>
<rect x="65.40" y="302.65" width="15.55" height="5.70" fill="#92c8e2"/>
<rect x="80.90" y="302.65" width="15.55" height="5.70" fill="#92c8e2"/>
<rect x="96.40" y="302.65" width="15.55" height="5.70" fill="#b5dbec"/>
<rect x="111.90" y="302.65" width="15.55" height="5.70" fill="#b5dbec"/>
<rect x="127.40" y="302.65" width="15.55" height="5.70" fill="#d9eef4"/>
<rect x="142.90" y="302.65" width="15.55" height="5.70" fill="#fbf6c4"/>
<rect x="158.40" y="302.65" width="15.55" height="5.70" fill="#b5dbec"/>
<rect x="173.90" y="302.65" width="15.55" height="5.70" fill="#fbf6c4"/>
<rect x="34.40" y="308.30" width="15.55" height="5.70" fill="#d9eef4"/>
<rect x="49.90" y="308.30" width="15.55" height="5.70" fill="#92c8e2"/>
<rect x="65.40" y="308.30" width="15.55" height="5.70" fill="#92c8e2"/>
<rect x="80.90" y="308.30" width="15.55" height="5.70" fill="#fbf6c4"/>
<rect x="96.40" y="308.30" width="15.55" height="5.70" fill="#d9eef4"/>
<rect x="111.90" y="308.30" width="15.55" height="5.70" fill="#d9eef4"/>
<rect x="127.40" y="308.30" width="15.55" height="5.70" fill="#d9eef4"/>
<rect x="142.90" y="308.30" width="15.55" height="5.70" fill="#d9eef4"/>
<rect x="158.40" y="308.30" width="15.55" height="5.70" fill="#d9eef4"/>
<rect x="173.90" y="308.30" width="15.55" height="5.70" fill="#eaf5e4"/>
<rect x="34.40" y="313.95" width="15.55" height="5.70" fill="#1f6fbf"/>
<rect x="49.90" y="313.95" width="15.55" height="5.70" fill="#92c8e2"/>
<rect x="65.40" y="313.95" width="15.55" height="5.70" fill="#6aaed6"/>
<rect x="80.90" y="313.95" width="15.55" height="5.70" fill="#fde8a2"/>
<rect x="96.40" y="313.95" width="15.55" height="5.70" fill="#92c8e2"/>
<rect x="111.90" y="313.95" width="15.55" height="5.70" fill="#1f6fbf"/>
<rect x="127.40" y="313.95" width="15.55" height="5.70" fill="#d9eef4"/>
<rect x="142.90" y="313.95" width="15.55" height="5.70" fill="#1f6fbf"/>
<rect x="158.40" y="313.95" width="15.55" height="5.70" fill="#d9eef4"/>
<rect x="173.90" y="313.95" width="15.55" height="5.70" fill="#fbf6c4"/>
<rect x="34.40" y="319.60" width="15.55" height="5.70" fill="#6aaed6"/>
<rect x="49.90" y="319.60" width="15.55" height="5.70" fill="#1f6fbf"/>
<rect x="65.40" y="319.60" width="15.55" height="5.70" fill="#1f6fbf"/>
<rect x="80.90" y="319.60" width="15.55" height="5.70" fill="#92c8e2"/>
<rect x="96.40" y="319.60" width="15.55" height="5.70" fill="#92c8e2"/>
<rect x="111.90" y="319.60" width="15.55" height="5.70" fill="#92c8e2"/>
<rect x="127.40" y="319.60" width="15.55" height="5.70" fill="#eaf5e4"/>
<rect x="142.90" y="319.60" width="15.55" height="5.70" fill="#d9eef4"/>
<rect x="158.40" y="319.60" width="15.55" height="5.70" fill="#92c8e2"/>
<rect x="173.90" y="319.60" width="15.55" height="5.70" fill="#fbf6c4"/>
<rect x="34.40" y="325.25" width="15.55" height="5.70" fill="#6aaed6"/>
<rect x="49.90" y="325.25" width="15.55" height="5.70" fill="#92c8e2"/>
<rect x="65.40" y="325.25" width="15.55" height="5.70" fill="#1f6fbf"/>
<rect x="80.90" y="325.25" width="15.55" height="5.70" fill="#b5dbec"/>
<rect x="96.40" y="325.25" width="15.55" height="5.70" fill="#92c8e2"/>
<rect x="111.90" y="325.25" width="15.55" height="5.70" fill="#92c8e2"/>
<rect x="127.40" y="325.25" width="15.55" height="5.70" fill="#b5dbec"/>
<rect x="142.90" y="325.25" width="15.55" height="5.70" fill="#d9eef4"/>
<rect x="158.40" y="325.25" width="15.55" height="5.70" fill="#92c8e2"/>
<rect x="173.90" y="325.25" width="15.55" height="5.70" fill="#fbf6c4"/>
<rect x="34.40" y="330.89" width="15.55" height="5.70" fill="#1f6fbf"/>
<rect x="49.90" y="330.89" width="15.55" height="5.70" fill="#1f6fbf"/>
<rect x="65.40" y="330.89" width="15.55" height="5.70" fill="#1f6fbf"/>
<rect x="80.90" y="330.89" width="15.55" height="5.70" fill="#b5dbec"/>
<rect x="96.40" y="330.89" width="15.55" height="5.70" fill="#6aaed6"/>
<rect x="111.90" y="330.89" width="15.55" height="5.70" fill="#1f6fbf"/>
<rect x="127.40" y="330.89" width="15.55" height="5.70" fill="#b5dbec"/>
<rect x="142.90" y="330.89" width="15.55" height="5.70" fill="#1f6fbf"/>
<rect x="158.40" y="330.89" width="15.55" height="5.70" fill="#92c8e2"/>
<rect x="173.90" y="330.89" width="15.55" height="5.70" fill="#eaf5e4"/>
<rect x="34.40" y="336.54" width="15.55" height="5.70" fill="#1f6fbf"/>
<rect x="49.90" y="336.54" width="15.55" height="5.70" fill="#1f6fbf"/>
<rect x="65.40" y="336.54" width="15.55" height="5.70" fill="#1f6fbf"/>
<rect x="80.90" y="336.54" width="15.55" height="5.70" fill="#6aaed6"/>
<rect x="96.40" y="336.54" width="15.55" height="5.70" fill="#eaf5e4"/>
<rect x="111.90" y="336.54" width="15.55" height="5.70" fill="#1f6fbf"/>
<rect x="127.40" y="336.54" width="15.55" height="5.70" fill="#b5dbec"/>
<rect x="142.90" y="336.54" width="15.55" height="5.70" fill="#92c8e2"/>
<rect x="158.40" y="336.54" width="15.55" height="5.70" fill="#92c8e2"/>
<rect x="173.90" y="336.54" width="15.55" height="5.70" fill="#fbf6c4"/>
<rect x="34.40" y="342.19" width="15.55" height="5.70" fill="#1f6fbf"/>
<rect x="49.90" y="342.19" width="15.55" height="5.70" fill="#1f6fbf"/>
<rect x="65.40" y="342.19" width="15.55" height="5.70" fill="#fbf6c4"/>
<rect x="80.90" y="342.19" width="15.55" height="5.70" fill="#1f6fbf"/>
<rect x="96.40" y="342.19" width="15.55" height="5.70" fill="#b5dbec"/>
<rect x="111.90" y="342.19" width="15.55" height="5.70" fill="#92c8e2"/>
<rect x="127.40" y="342.19" width="15.55" height="5.70" fill="#1f6fbf"/>
<rect x="142.90" y="342.19" width="15.55" height="5.70" fill="#d9eef4"/>
<rect x="158.40" y="342.19" width="15.55" height="5.70" fill="#1f6fbf"/>
<rect x="173.90" y="342.19" width="15.55" height="5.70" fill="#b5dbec"/>
<rect x="34.40" y="347.84" width="15.55" height="5.70" fill="#1f6fbf"/>
<rect x="49.90" y="347.84" width="15.55" height="5.70" fill="#1f6fbf"/>
<rect x="65.40" y="347.84" width="15.55" height="5.70" fill="#1f6fbf"/>
<rect x="80.90" y="347.84" width="15.55" height="5.70" fill="#1f6fbf"/>
<rect x="96.40" y="347.84" width="15.55" height="5.70" fill="#92c8e2"/>
<rect x="111.90" y="347.84" width="15.55" height="5.70" fill="#92c8e2"/>
<rect x="127.40" y="347.84" width="15.55" height="5.70" fill="#1f6fbf"/>
<rect x="142.90" y="347.84" width="15.55" height="5.70" fill="#d9eef4"/>
<rect x="158.40" y="347.84" width="15.55" height="5.70" fill="#d9eef4"/>
<rect x="173.90" y="347.84" width="15.55" height="5.70" fill="#b5dbec"/>
<rect x="34.40" y="353.49" width="15.55" height="5.70" fill="#1f6fbf"/>
<rect x="49.90" y="353.49" width="15.55" height="5.70" fill="#1f6fbf"/>
<rect x="65.40" y="353.49" width="15.55" height="5.70" fill="#6aaed6"/>
<rect x="80.90" y="353.49" width="15.55" height="5.70" fill="#d9eef4"/>
<rect x="96.40" y="353.49" width="15.55" height="5.70" fill="#b5dbec"/>
<rect x="111.90" y="353.49" width="15.55" height="5.70" fill="#92c8e2"/>
<rect x="127.40" y="353.49" width="15.55" height="5.70" fill="#b5dbec"/>
<rect x="142.90" y="353.49" width="15.55" height="5.70" fill="#fbf6c4"/>
<rect x="158.40" y="353.49" width="15.55" height="5.70" fill="#92c8e2"/>
<rect x="173.90" y="353.49" width="15.55" height="5.70" fill="#92c8e2"/>
<rect x="34.40" y="359.14" width="15.55" height="5.70" fill="#1f6fbf"/>
<rect x="49.90" y="359.14" width="15.55" height="5.70" fill="#1f6fbf"/>
<rect x="65.40" y="359.14" width="15.55" height="5.70" fill="#1f6fbf"/>
<rect x="80.90" y="359.14" width="15.55" height="5.70" fill="#1f6fbf"/>
<rect x="96.40" y="359.14" width="15.55" height="5.70" fill="#1f6fbf"/>
<rect x="111.90" y="359.14" width="15.55" height="5.70" fill="#92c8e2"/>
<rect x="127.40" y="359.14" width="15.55" height="5.70" fill="#1f6fbf"/>
<rect x="142.90" y="359.14" width="15.55" height="5.70" fill="#1f6fbf"/>
<rect x="158.40" y="359.14" width="15.55" height="5.70" fill="#1f6fbf"/>
<rect x="173.90" y="359.14" width="15.55" height="5.70" fill="#1f6fbf"/>
<rect x="34.40" y="364.79" width="15.55" height="5.70" fill="#1f6fbf"/>
<rect x="49.90" y="364.79" width="15.55" height="5.70" fill="#1f6fbf"/>
<rect x="65.40" y="364.79" width="15.55" height="5.70" fill="#1f6fbf"/>
<rect x="80.90" y="364.79" width="15.55" height="5.70" fill="#1f6fbf"/>
<rect x="96.40" y="364.79" width="15.55" height="5.70" fill="#1f6fbf"/>
<rect x="111.90" y="364.79" width="15.55" height="5.70" fill="#92c8e2"/>
<rect x="127.40" y="364.79" width="15.55" height="5.70" fill="#1f6fbf"/>
<rect x="142.90" y="364.79" width="15.55" height="5.70" fill="#92c8e2"/>
<rect x="158.40" y="364.79" width="15.55" height="5.70" fill="#1f6fbf"/>
<rect x="173.90" y="364.79" width="15.55" height="5.70" fill="#1f6fbf"/>
<rect x="34.40" y="370.44" width="15.55" height="5.70" fill="#1f6fbf"/>
<rect x="49.90" y="370.44" width="15.55" height="5.70" fill="#1f6fbf"/>
<rect x="65.40" y="370.44" width="15.55" height="5.70" fill="#1f6fbf"/>
<rect x="80.90" y="370.44" width="15.55" height="5.70" fill="#1f6fbf"/>
<rect x="96.40" y="370.44" width="15.55" height="5.70" fill="#1f6fbf"/>
<rect x="111.90" y="370.44" width="15.55" height="5.70" fill="#b5dbec"/>
<rect x="127.40" y="370.44" width="15.55" height="5.70" fill="#d9eef4"/>
<rect x="142.90" y="370.44" width="15.55" height="5.70" fill="#1f6fbf"/>
<rect x="158.40" y="370.44" width="15.55" height="5.70" fill="#1f6fbf"/>
<rect x="173.90" y="370.44" width="15.55" height="5.70" fill="#1f6fbf"/>
<rect x="34.40" y="376.09" width="15.55" height="5.70" fill="#1f6fbf"/>
<rect x="49.90" y="376.09" width="15.55" height="5.70" fill="#1f6fbf"/>
<rect x="65.40" y="376.09" width="15.55" height="5.70" fill="#1f6fbf"/>
<rect x="80.90" y="376.09" width="15.55" height="5.70" fill="#1f6fbf"/>
<rect x="96.40" y="376.09" width="15.55" height="5.70" fill="#1f6fbf"/>
<rect x="111.90" y="376.09" width="15.55" height="5.70" fill="#1f6fbf"/>
<rect x="127.40" y="376.09" width="15.55" height="5.70" fill="#92c8e2"/>
<rect x="142.90" y="376.09" width="15.55" height="5.70" fill="#1f6fbf"/>
<rect x="158.40" y="376.09" width="15.55" height="5.70" fill="#1f6fbf"/>
<rect x="173.90" y="376.09" width="15.55" height="5.70" fill="#1f6fbf"/>
<rect x="34.40" y="381.74" width="15.55" height="5.70" fill="#92c8e2"/>
<rect x="49.90" y="381.74" width="15.55" height="5.70" fill="#1f6fbf"/>
<rect x="65.40" y="381.74" width="15.55" height="5.70" fill="#1f6fbf"/>
<rect x="80.90" y="381.74" width="15.55" height="5.70" fill="#1f6fbf"/>
<rect x="96.40" y="381.74" width="15.55" height="5.70" fill="#1f6fbf"/>
<rect x="111.90" y="381.74" width="15.55" height="5.70" fill="#92c8e2"/>
<rect x="127.40" y="381.74" width="15.55" height="5.70" fill="#92c8e2"/>
<rect x="142.90" y="381.74" width="15.55" height="5.70" fill="#1f6fbf"/>
<rect x="158.40" y="381.74" width="15.55" height="5.70" fill="#1f6fbf"/>
<rect x="173.90" y="381.74" width="15.55" height="5.70" fill="#1f6fbf"/>
<rect x="34.40" y="387.38" width="15.55" height="5.70" fill="#6aaed6"/>
<rect x="49.90" y="387.38" width="15.55" height="5.70" fill="#1f6fbf"/>
<rect x="65.40" y="387.38" width="15.55" height="5.70" fill="#1f6fbf"/>
<rect x="80.90" y="387.38" width="15.55" height="5.70" fill="#1f6fbf"/>
<rect x="96.40" y="387.38" width="15.55" height="5.70" fill="#1f6fbf"/>
<rect x="111.90" y="387.38" width="15.55" height="5.70" fill="#92c8e2"/>
<rect x="127.40" y="387.38" width="15.55" height="5.70" fill="#92c8e2"/>
<rect x="142.90" y="387.38" width="15.55" height="5.70" fill="#1f6fbf"/>
<rect x="158.40" y="387.38" width="15.55" height="5.70" fill="#1f6fbf"/>
<rect x="173.90" y="387.38" width="15.55" height="5.70" fill="#1f6fbf"/>
<rect x="34.40" y="393.03" width="15.55" height="5.70" fill="#1f6fbf"/>
<rect x="49.90" y="393.03" width="15.55" height="5.70" fill="#1f6fbf"/>
<rect x="65.40" y="393.03" width="15.55" height="5.70" fill="#92c8e2"/>
<rect x="80.90" y="393.03" width="15.55" height="5.70" fill="#1f6fbf"/>
<rect x="96.40" y="393.03" width="15.55" height="5.70" fill="#92c8e2"/>
<rect x="111.90" y="393.03" width="15.55" height="5.70" fill="#92c8e2"/>
<rect x="127.40" y="393.03" width="15.55" height="5.70" fill="#92c8e2"/>
<rect x="142.90" y="393.03" width="15.55" height="5.70" fill="#1f6fbf"/>
<rect x="158.40" y="393.03" width="15.55" height="5.70" fill="#92c8e2"/>
<rect x="173.90" y="393.03" width="15.55" height="5.70" fill="#1f6fbf"/>
<rect x="34.40" y="398.68" width="15.55" height="5.70" fill="#1f6fbf"/>
<rect x="49.90" y="398.68" width="15.55" height="5.70" fill="#1f6fbf"/>
<rect x="65.40" y="398.68" width="15.55" height="5.70" fill="#6aaed6"/>
<rect x="80.90" y="398.68" width="15.55" height="5.70" fill="#1f6fbf"/>
<rect x="96.40" y="398.68" width="15.55" height="5.70" fill="#1f6fbf"/>
<rect x="111.90" y="398.68" width="15.55" height="5.70" fill="#6aaed6"/>
<rect x="127.40" y="398.68" width="15.55" height="5.70" fill="#6aaed6"/>
<rect x="142.90" y="398.68" width="15.55" height="5.70" fill="#92c8e2"/>
<rect x="158.40" y="398.68" width="15.55" height="5.70" fill="#92c8e2"/>
<rect x="173.90" y="398.68" width="15.55" height="5.70" fill="#1f6fbf"/>
<rect x="34.40" y="404.33" width="15.55" height="5.70" fill="#b5dbec"/>
<rect x="49.90" y="404.33" width="15.55" height="5.70" fill="#1f6fbf"/>
<rect x="65.40" y="404.33" width="15.55" height="5.70" fill="#92c8e2"/>
<rect x="80.90" y="404.33" width="15.55" height="5.70" fill="#92c8e2"/>
<rect x="96.40" y="404.33" width="15.55" height="5.70" fill="#92c8e2"/>
<rect x="111.90" y="404.33" width="15.55" height="5.70" fill="#eaf5e4"/>
<rect x="127.40" y="404.33" width="15.55" height="5.70" fill="#d9eef4"/>
<rect x="142.90" y="404.33" width="15.55" height="5.70" fill="#1f6fbf"/>
<rect x="158.40" y="404.33" width="15.55" height="5.70" fill="#92c8e2"/>
<rect x="173.90" y="404.33" width="15.55" height="5.70" fill="#1f6fbf"/>
<rect x="34.40" y="409.98" width="15.55" height="5.70" fill="#92c8e2"/>
<rect x="49.90" y="409.98" width="15.55" height="5.70" fill="#1f6fbf"/>
<rect x="65.40" y="409.98" width="15.55" height="5.70" fill="#b5dbec"/>
<rect x="80.90" y="409.98" width="15.55" height="5.70" fill="#6aaed6"/>
<rect x="96.40" y="409.98" width="15.55" height="5.70" fill="#92c8e2"/>
<rect x="111.90" y="409.98" width="15.55" height="5.70" fill="#b5dbec"/>
<rect x="127.40" y="409.98" width="15.55" height="5.70" fill="#d9eef4"/>
<rect x="142.90" y="409.98" width="15.55" height="5.70" fill="#eaf5e4"/>
<rect x="158.40" y="409.98" width="15.55" height="5.70" fill="#92c8e2"/>
<rect x="173.90" y="409.98" width="15.55" height="5.70" fill="#1f6fbf"/>
<path d="M34.40 25.85H189.40M34.40 31.50H189.40M34.40 37.15H189.40M34.40 42.80H189.40M34.40 48.45H189.40M34.40 54.09H189.40M34.40 59.74H189.40M34.40 65.39H189.40M34.40 71.04H189.40M34.40 76.69H189.40M34.40 82.34H189.40M34.40 87.99H189.40M34.40 93.64H189.40M34.40 99.29H189.40M34.40 104.94H189.40M34.40 110.58H189.40M34.40 116.23H189.40M34.40 121.88H189.40M34.40 127.53H189.40M34.40 133.18H189.40M34.40 138.83H189.40M34.40 144.48H189.40M34.40 150.13H189.40M34.40 155.78H189.40M34.40 161.42H189.40M34.40 167.07H189.40M34.40 172.72H189.40M34.40 178.37H189.40M34.40 184.02H189.40M34.40 189.67H189.40M34.40 195.32H189.40M34.40 200.97H189.40M34.40 206.62H189.40M34.40 212.27H189.40M34.40 217.91H189.40M34.40 223.56H189.40M34.40 229.21H189.40M34.40 234.86H189.40M34.40 240.51H189.40M34.40 246.16H189.40M34.40 251.81H189.40M34.40 257.46H189.40M34.40 263.11H189.40M34.40 268.76H189.40M34.40 274.41H189.40M34.40 280.05H189.40M34.40 285.70H189.40M34.40 291.35H189.40M34.40 297.00H189.40M34.40 302.65H189.40M34.40 308.30H189.40M34.40 313.95H189.40M34.40 319.60H189.40M34.40 325.25H189.40M34.40 330.89H189.40M34.40 336.54H189.40M34.40 342.19H189.40M34.40 347.84H189.40M34.40 353.49H189.40M34.40 359.14H189.40M34.40 364.79H189.40M34.40 370.44H189.40M34.40 376.09H189.40M34.40 381.74H189.40M34.40 387.38H189.40M34.40 393.03H189.40M34.40 398.68H189.40M34.40 404.33H189.40M34.40 409.98H189.40" stroke="#b8b4b4" stroke-width="0.75" fill="none"/>
<path d="M49.90 20.20V415.63M65.40 20.20V415.63M80.90 20.20V415.63M96.40 20.20V415.63M111.90 20.20V415.63M127.40 20.20V415.63M142.90 20.20V415.63M158.40 20.20V415.63M173.90 20.20V415.63" stroke="#a3a5ac" stroke-width="0.85" fill="none"/>
<text x="190.3" y="24.82" font-size="4.7" fill="#111" stroke="#111" stroke-width="0.12">K03077</text>
<text x="190.3" y="30.47" font-size="4.7" fill="#111" stroke="#111" stroke-width="0.12">K01804</text>
<text x="190.3" y="36.12" font-size="4.7" fill="#111" stroke="#111" stroke-width="0.12">K01805</text>
<text x="190.3" y="41.77" font-size="4.7" fill="#111" stroke="#111" stroke-width="0.12">K05942</text>
<text x="190.3" y="47.42" font-size="4.7" fill="#111" stroke="#111" stroke-width="0.12">K01647</text>
<text x="190.3" y="53.07" font-size="4.7" fill="#111" stroke="#111" stroke-width="0.12">K00640</text>
<text x="190.3" y="58.72" font-size="4.7" fill="#111" stroke="#111" stroke-width="0.12">K00641</text>
<text x="190.3" y="64.37" font-size="4.7" fill="#111" stroke="#111" stroke-width="0.12">K01815</text>
<text x="190.3" y="70.02" font-size="4.7" fill="#111" stroke="#111" stroke-width="0.12">K01681</text>
<text x="190.3" y="75.67" font-size="4.7" fill="#111" stroke="#111" stroke-width="0.12">K01812</text>
<text x="190.3" y="81.31" font-size="4.7" fill="#111" stroke="#111" stroke-width="0.12">K00240</text>
<text x="190.3" y="86.96" font-size="4.7" fill="#111" stroke="#111" stroke-width="0.12">K00024</text>
<text x="190.3" y="92.61" font-size="4.7" fill="#111" stroke="#111" stroke-width="0.12">K01629</text>
<text x="190.3" y="98.26" font-size="4.7" fill="#111" stroke="#111" stroke-width="0.12">K01195</text>
<text x="190.3" y="103.91" font-size="4.7" fill="#111" stroke="#111" stroke-width="0.12">K01677</text>
<text x="190.3" y="109.56" font-size="4.7" fill="#111" stroke="#111" stroke-width="0.12">K01902</text>
<text x="190.3" y="115.21" font-size="4.7" fill="#111" stroke="#111" stroke-width="0.12">K01903</text>
<text x="190.3" y="120.86" font-size="4.7" fill="#111" stroke="#111" stroke-width="0.12">K00864</text>
<text x="190.3" y="126.51" font-size="4.7" fill="#111" stroke="#111" stroke-width="0.12">K01626</text>
<text x="190.3" y="132.16" font-size="4.7" fill="#111" stroke="#111" stroke-width="0.12">K00244</text>
<text x="190.3" y="137.80" font-size="4.7" fill="#111" stroke="#111" stroke-width="0.12">K00241</text>
<text x="190.3" y="143.45" font-size="4.7" fill="#111" stroke="#111" stroke-width="0.12">K00848</text>
<text x="190.3" y="149.10" font-size="4.7" fill="#111" stroke="#111" stroke-width="0.12">K01686</text>
<text x="190.3" y="154.75" font-size="4.7" fill="#111" stroke="#111" stroke-width="0.12">K00239</text>
<text x="190.3" y="160.40" font-size="4.7" fill="#111" stroke="#111" stroke-width="0.12">K00051</text>
<text x="190.3" y="166.05" font-size="4.7" fill="#111" stroke="#111" stroke-width="0.12">K01818</text>
<text x="190.3" y="171.70" font-size="4.7" fill="#111" stroke="#111" stroke-width="0.12">K03079</text>
<text x="190.3" y="177.35" font-size="4.7" fill="#111" stroke="#111" stroke-width="0.12">K00246</text>
<text x="190.3" y="183.00" font-size="4.7" fill="#111" stroke="#111" stroke-width="0.12">K04023</text>
<text x="190.3" y="188.65" font-size="4.7" fill="#111" stroke="#111" stroke-width="0.12">K00247</text>
<text x="190.3" y="194.29" font-size="4.7" fill="#111" stroke="#111" stroke-width="0.12">K01682</text>
<text x="190.3" y="199.94" font-size="4.7" fill="#111" stroke="#111" stroke-width="0.12">K00663</text>
<text x="190.3" y="205.59" font-size="4.7" fill="#111" stroke="#111" stroke-width="0.12">K03078</text>
<text x="190.3" y="211.24" font-size="4.7" fill="#111" stroke="#111" stroke-width="0.12">K05322</text>
<text x="190.3" y="216.89" font-size="4.7" fill="#111" stroke="#111" stroke-width="0.12">K00665</text>
<text x="190.3" y="222.54" font-size="4.7" fill="#111" stroke="#111" stroke-width="0.12">K01964</text>
<text x="190.3" y="228.19" font-size="4.7" fill="#111" stroke="#111" stroke-width="0.12">K00879</text>
<text x="190.3" y="233.84" font-size="4.7" fill="#111" stroke="#111" stroke-width="0.12">K06320</text>
<text x="190.3" y="239.49" font-size="4.7" fill="#111" stroke="#111" stroke-width="0.12">K01776</text>
<text x="190.3" y="245.14" font-size="4.7" fill="#111" stroke="#111" stroke-width="0.12">K08052</text>
<text x="190.3" y="250.78" font-size="4.7" fill="#111" stroke="#111" stroke-width="0.12">K05110</text>
<text x="190.3" y="256.43" font-size="4.7" fill="#111" stroke="#111" stroke-width="0.12">K00242</text>
<text x="190.3" y="262.08" font-size="4.7" fill="#111" stroke="#111" stroke-width="0.12">K00240</text>
<text x="190.3" y="267.73" font-size="4.7" fill="#111" stroke="#111" stroke-width="0.12">K01051</text>
<text x="190.3" y="273.38" font-size="4.7" fill="#111" stroke="#111" stroke-width="0.12">K01685</text>
<text x="190.3" y="279.03" font-size="4.7" fill="#111" stroke="#111" stroke-width="0.12">K00658</text>
<text x="190.3" y="284.68" font-size="4.7" fill="#111" stroke="#111" stroke-width="0.12">K00662</text>
<text x="190.3" y="290.33" font-size="4.7" fill="#111" stroke="#111" stroke-width="0.12">K22366</text>
<text x="190.3" y="295.98" font-size="4.7" fill="#111" stroke="#111" stroke-width="0.12">K22367</text>
<text x="190.3" y="301.63" font-size="4.7" fill="#111" stroke="#111" stroke-width="0.12">K01679</text>
<text x="190.3" y="307.27" font-size="4.7" fill="#111" stroke="#111" stroke-width="0.12">K09012</text>
<text x="190.3" y="312.92" font-size="4.7" fill="#111" stroke="#111" stroke-width="0.12">K01678</text>
<text x="190.3" y="318.57" font-size="4.7" fill="#111" stroke="#111" stroke-width="0.12">K05352</text>
<text x="190.3" y="324.22" font-size="4.7" fill="#111" stroke="#111" stroke-width="0.12">K00178</text>
<text x="190.3" y="329.87" font-size="4.7" fill="#111" stroke="#111" stroke-width="0.12">K00177</text>
<text x="190.3" y="335.52" font-size="4.7" fill="#111" stroke="#111" stroke-width="0.12">K00030</text>
<text x="190.3" y="341.17" font-size="4.7" fill="#111" stroke="#111" stroke-width="0.12">K01958</text>
<text x="190.3" y="346.82" font-size="4.7" fill="#111" stroke="#111" stroke-width="0.12">K05351</text>
<text x="190.3" y="352.47" font-size="4.7" fill="#111" stroke="#111" stroke-width="0.12">K00008</text>
<text x="190.3" y="358.12" font-size="4.7" fill="#111" stroke="#111" stroke-width="0.12">K21030</text>
<text x="190.3" y="363.76" font-size="4.7" fill="#111" stroke="#111" stroke-width="0.12">K15849</text>
<text x="190.3" y="369.41" font-size="4.7" fill="#111" stroke="#111" stroke-width="0.12">K15118</text>
<text x="190.3" y="375.06" font-size="4.7" fill="#111" stroke="#111" stroke-width="0.12">K09668</text>
<text x="190.3" y="380.71" font-size="4.7" fill="#111" stroke="#111" stroke-width="0.12">K21681</text>
<text x="190.3" y="386.36" font-size="4.7" fill="#111" stroke="#111" stroke-width="0.12">K00007</text>
<text x="190.3" y="392.01" font-size="4.7" fill="#111" stroke="#111" stroke-width="0.12">K05875</text>
<text x="190.3" y="397.66" font-size="4.7" fill="#111" stroke="#111" stroke-width="0.12">K01730</text>
<text x="190.3" y="403.31" font-size="4.7" fill="#111" stroke="#111" stroke-width="0.12">K14274</text>
<text x="190.3" y="408.96" font-size="4.7" fill="#111" stroke="#111" stroke-width="0.12">K13877</text>
<text x="190.3" y="414.61" font-size="4.7" fill="#111" stroke="#111" stroke-width="0.12">K22994</text>
<defs><linearGradient id="gA" x1="0" y1="1" x2="0" y2="0"><stop offset="0" stop-color="#1f6fbf"/><stop offset="0.3" stop-color="#abd9e9"/><stop offset="0.52" stop-color="#ffffbf"/><stop offset="0.78" stop-color="#fdae61"/><stop offset="1" stop-color="#e8301f"/></linearGradient><linearGradient id="gB" x1="0" y1="1" x2="0" y2="0"><stop offset="0" stop-color="#1f6fbf"/><stop offset="0.25" stop-color="#abd9e9"/><stop offset="0.5" stop-color="#ffffbf"/><stop offset="0.75" stop-color="#fdae61"/><stop offset="1" stop-color="#e8301f"/></linearGradient></defs>
<rect x="209.4" y="20.3" width="4" height="62.2" fill="url(#gA)"/>
<text x="214.9" y="36.7" font-size="4.6" fill="#222" stroke="#222" stroke-width="0.1">0.6</text>
<text x="214.9" y="52.9" font-size="4.6" fill="#222" stroke="#222" stroke-width="0.1">0.4</text>
<text x="214.9" y="68.7" font-size="4.6" fill="#222" stroke="#222" stroke-width="0.1">0.2</text>
<text x="214.9" y="85.0" font-size="4.6" fill="#222" stroke="#222" stroke-width="0.1">0</text>
<text transform="translate(39.75,417.2) rotate(90)" font-size="6.4" fill="#111" stroke="#111" stroke-width="0.15">tPB1</text>
<text transform="translate(55.25,417.2) rotate(90)" font-size="6.4" fill="#111" stroke="#111" stroke-width="0.15">tPB2</text>
<text transform="translate(70.75,417.2) rotate(90)" font-size="6.4" fill="#111" stroke="#111" stroke-width="0.15">tPB3</text>
<text transform="translate(86.25,417.2) rotate(90)" font-size="6.4" fill="#111" stroke="#111" stroke-width="0.15">tPB4</text>
<text transform="translate(101.75,417.2) rotate(90)" font-size="6.4" fill="#111" stroke="#111" stroke-width="0.15">tPB5</text>
<text transform="translate(117.25,417.2) rotate(90)" font-size="6.4" fill="#111" stroke="#111" stroke-width="0.15">tCMH1</text>
<text transform="translate(132.75,417.2) rotate(90)" font-size="6.4" fill="#111" stroke="#111" stroke-width="0.15">tCMH2</text>
<text transform="translate(148.25,417.2) rotate(90)" font-size="6.4" fill="#111" stroke="#111" stroke-width="0.15">tCMH3</text>
<text transform="translate(163.75,417.2) rotate(90)" font-size="6.4" fill="#111" stroke="#111" stroke-width="0.15">tCMH4</text>
<text transform="translate(179.25,417.2) rotate(90)" font-size="6.4" fill="#111" stroke="#111" stroke-width="0.15">tCMH5</text>
<rect x="237.10" y="21.00" width="15.05" height="11.60" fill="#1e71c2"/>
<rect x="252.10" y="21.00" width="15.05" height="11.60" fill="#1e71c2"/>
<rect x="267.10" y="21.00" width="15.05" height="11.60" fill="#1e71c2"/>
<rect x="282.10" y="21.00" width="15.05" height="11.60" fill="#1e71c2"/>
<rect x="297.10" y="21.00" width="15.05" height="11.60" fill="#d9eef4"/>
<rect x="312.10" y="21.00" width="15.05" height="11.60" fill="#92c8e2"/>
<rect x="327.10" y="21.00" width="15.05" height="11.60" fill="#1e71c2"/>
<rect x="342.10" y="21.00" width="15.05" height="11.60" fill="#fcc07a"/>
<rect x="357.10" y="21.00" width="15.05" height="11.60" fill="#fde8a2"/>
<rect x="372.10" y="21.00" width="15.05" height="11.60" fill="#fbf6c4"/>
<rect x="237.10" y="32.55" width="15.05" height="11.60" fill="#1e71c2"/>
<rect x="252.10" y="32.55" width="15.05" height="11.60" fill="#1e71c2"/>
<rect x="267.10" y="32.55" width="15.05" height="11.60" fill="#1e71c2"/>
<rect x="282.10" y="32.55" width="15.05" height="11.60" fill="#1e71c2"/>
<rect x="297.10" y="32.55" width="15.05" height="11.60" fill="#1e71c2"/>
<rect x="312.10" y="32.55" width="15.05" height="11.60" fill="#b5dbec"/>
<rect x="327.10" y="32.55" width="15.05" height="11.60" fill="#1e71c2"/>
<rect x="342.10" y="32.55" width="15.05" height="11.60" fill="#d9eef4"/>
<rect x="357.10" y="32.55" width="15.05" height="11.60" fill="#1e71c2"/>
<rect x="372.10" y="32.55" width="15.05" height="11.60" fill="#1e71c2"/>
<rect x="237.10" y="44.09" width="15.05" height="11.60" fill="#1e71c2"/>
<rect x="252.10" y="44.09" width="15.05" height="11.60" fill="#1e71c2"/>
<rect x="267.10" y="44.09" width="15.05" height="11.60" fill="#1e71c2"/>
<rect x="282.10" y="44.09" width="15.05" height="11.60" fill="#1e71c2"/>
<rect x="297.10" y="44.09" width="15.05" height="11.60" fill="#1e71c2"/>
<rect x="312.10" y="44.09" width="15.05" height="11.60" fill="#b5dbec"/>
<rect x="327.10" y="44.09" width="15.05" height="11.60" fill="#1e71c2"/>
<rect x="342.10" y="44.09" width="15.05" height="11.60" fill="#1e71c2"/>
<rect x="357.10" y="44.09" width="15.05" height="11.60" fill="#1e71c2"/>
<rect x="372.10" y="44.09" width="15.05" height="11.60" fill="#1e71c2"/>
<rect x="237.10" y="55.64" width="15.05" height="11.60" fill="#1e71c2"/>
<rect x="252.10" y="55.64" width="15.05" height="11.60" fill="#1e71c2"/>
<rect x="267.10" y="55.64" width="15.05" height="11.60" fill="#1e71c2"/>
<rect x="282.10" y="55.64" width="15.05" height="11.60" fill="#1e71c2"/>
<rect x="297.10" y="55.64" width="15.05" height="11.60" fill="#1e71c2"/>
<rect x="312.10" y="55.64" width="15.05" height="11.60" fill="#1e71c2"/>
<rect x="327.10" y="55.64" width="15.05" height="11.60" fill="#fbf6c4"/>
<rect x="342.10" y="55.64" width="15.05" height="11.60" fill="#d9eef4"/>
<rect x="357.10" y="55.64" width="15.05" height="11.60" fill="#1e71c2"/>
<rect x="372.10" y="55.64" width="15.05" height="11.60" fill="#fbab6b"/>
<rect x="237.10" y="67.19" width="15.05" height="11.60" fill="#1e71c2"/>
<rect x="252.10" y="67.19" width="15.05" height="11.60" fill="#1e71c2"/>
<rect x="267.10" y="67.19" width="15.05" height="11.60" fill="#1e71c2"/>
<rect x="282.10" y="67.19" width="15.05" height="11.60" fill="#1e71c2"/>
<rect x="297.10" y="67.19" width="15.05" height="11.60" fill="#1e71c2"/>
<rect x="312.10" y="67.19" width="15.05" height="11.60" fill="#1e71c2"/>
<rect x="327.10" y="67.19" width="15.05" height="11.60" fill="#fbf6c4"/>
<rect x="342.10" y="67.19" width="15.05" height="11.60" fill="#1e71c2"/>
<rect x="357.10" y="67.19" width="15.05" height="11.60" fill="#1e71c2"/>
<rect x="372.10" y="67.19" width="15.05" height="11.60" fill="#f42a1e"/>
<rect x="237.10" y="78.73" width="15.05" height="11.60" fill="#1e71c2"/>
<rect x="252.10" y="78.73" width="15.05" height="11.60" fill="#1e71c2"/>
<rect x="267.10" y="78.73" width="15.05" height="11.60" fill="#1e71c2"/>
<rect x="282.10" y="78.73" width="15.05" height="11.60" fill="#1e71c2"/>
<rect x="297.10" y="78.73" width="15.05" height="11.60" fill="#1e71c2"/>
<rect x="312.10" y="78.73" width="15.05" height="11.60" fill="#1e71c2"/>
<rect x="327.10" y="78.73" width="15.05" height="11.60" fill="#fde8a2"/>
<rect x="342.10" y="78.73" width="15.05" height="11.60" fill="#1e71c2"/>
<rect x="357.10" y="78.73" width="15.05" height="11.60" fill="#1e71c2"/>
<rect x="372.10" y="78.73" width="15.05" height="11.60" fill="#1e71c2"/>
<rect x="237.10" y="90.28" width="15.05" height="11.60" fill="#1e71c2"/>
<rect x="252.10" y="90.28" width="15.05" height="11.60" fill="#1e71c2"/>
<rect x="267.10" y="90.28" width="15.05" height="11.60" fill="#1e71c2"/>
<rect x="282.10" y="90.28" width="15.05" height="11.60" fill="#1e71c2"/>
<rect x="297.10" y="90.28" width="15.05" height="11.60" fill="#1e71c2"/>
<rect x="312.10" y="90.28" width="15.05" height="11.60" fill="#1e71c2"/>
<rect x="327.10" y="90.28" width="15.05" height="11.60" fill="#1e71c2"/>
<rect x="342.10" y="90.28" width="15.05" height="11.60" fill="#eaf5e4"/>
<rect x="357.10" y="90.28" width="15.05" height="11.60" fill="#1e71c2"/>
<rect x="372.10" y="90.28" width="15.05" height="11.60" fill="#1e71c2"/>
<rect x="237.10" y="101.83" width="15.05" height="11.60" fill="#1e71c2"/>
<rect x="252.10" y="101.83" width="15.05" height="11.60" fill="#1e71c2"/>
<rect x="267.10" y="101.83" width="15.05" height="11.60" fill="#1e71c2"/>
<rect x="282.10" y="101.83" width="15.05" height="11.60" fill="#b5dbec"/>
<rect x="297.10" y="101.83" width="15.05" height="11.60" fill="#d9eef4"/>
<rect x="312.10" y="101.83" width="15.05" height="11.60" fill="#d9eef4"/>
<rect x="327.10" y="101.83" width="15.05" height="11.60" fill="#b5dbec"/>
<rect x="342.10" y="101.83" width="15.05" height="11.60" fill="#fde8a2"/>
<rect x="357.10" y="101.83" width="15.05" height="11.60" fill="#b5dbec"/>
<rect x="372.10" y="101.83" width="15.05" height="11.60" fill="#1e71c2"/>
<rect x="237.10" y="113.38" width="15.05" height="11.60" fill="#b5dbec"/>
<rect x="252.10" y="113.38" width="15.05" height="11.60" fill="#1e71c2"/>
<rect x="267.10" y="113.38" width="15.05" height="11.60" fill="#1e71c2"/>
<rect x="282.10" y="113.38" width="15.05" height="11.60" fill="#b5dbec"/>
<rect x="297.10" y="113.38" width="15.05" height="11.60" fill="#d9eef4"/>
<rect x="312.10" y="113.38" width="15.05" height="11.60" fill="#1e71c2"/>
<rect x="327.10" y="113.38" width="15.05" height="11.60" fill="#d9eef4"/>
<rect x="342.10" y="113.38" width="15.05" height="11.60" fill="#fde8a2"/>
<rect x="357.10" y="113.38" width="15.05" height="11.60" fill="#b5dbec"/>
<rect x="372.10" y="113.38" width="15.05" height="11.60" fill="#1e71c2"/>
<rect x="237.10" y="124.92" width="15.05" height="11.60" fill="#1e71c2"/>
<rect x="252.10" y="124.92" width="15.05" height="11.60" fill="#1e71c2"/>
<rect x="267.10" y="124.92" width="15.05" height="11.60" fill="#1e71c2"/>
<rect x="282.10" y="124.92" width="15.05" height="11.60" fill="#1e71c2"/>
<rect x="297.10" y="124.92" width="15.05" height="11.60" fill="#1e71c2"/>
<rect x="312.10" y="124.92" width="15.05" height="11.60" fill="#1e71c2"/>
<rect x="327.10" y="124.92" width="15.05" height="11.60" fill="#eaf5e4"/>
<rect x="342.10" y="124.92" width="15.05" height="11.60" fill="#1e71c2"/>
<rect x="357.10" y="124.92" width="15.05" height="11.60" fill="#1e71c2"/>
<rect x="372.10" y="124.92" width="15.05" height="11.60" fill="#1e71c2"/>
<rect x="237.10" y="136.47" width="15.05" height="11.60" fill="#1e71c2"/>
<rect x="252.10" y="136.47" width="15.05" height="11.60" fill="#1e71c2"/>
<rect x="267.10" y="136.47" width="15.05" height="11.60" fill="#1e71c2"/>
<rect x="282.10" y="136.47" width="15.05" height="11.60" fill="#1e71c2"/>
<rect x="297.10" y="136.47" width="15.05" height="11.60" fill="#1e71c2"/>
<rect x="312.10" y="136.47" width="15.05" height="11.60" fill="#b5dbec"/>
<rect x="327.10" y="136.47" width="15.05" height="11.60" fill="#b5dbec"/>
<rect x="342.10" y="136.47" width="15.05" height="11.60" fill="#1e71c2"/>
<rect x="357.10" y="136.47" width="15.05" height="11.60" fill="#d9eef4"/>
<rect x="372.10" y="136.47" width="15.05" height="11.60" fill="#1e71c2"/>
<rect x="237.10" y="148.02" width="15.05" height="11.60" fill="#1e71c2"/>
<rect x="252.10" y="148.02" width="15.05" height="11.60" fill="#1e71c2"/>
<rect x="267.10" y="148.02" width="15.05" height="11.60" fill="#1e71c2"/>
<rect x="282.10" y="148.02" width="15.05" height="11.60" fill="#1e71c2"/>
<rect x="297.10" y="148.02" width="15.05" height="11.60" fill="#1e71c2"/>
<rect x="312.10" y="148.02" width="15.05" height="11.60" fill="#b5dbec"/>
<rect x="327.10" y="148.02" width="15.05" height="11.60" fill="#1e71c2"/>
<rect x="342.10" y="148.02" width="15.05" height="11.60" fill="#1e71c2"/>
<rect x="357.10" y="148.02" width="15.05" height="11.60" fill="#1e71c2"/>
<rect x="372.10" y="148.02" width="15.05" height="11.60" fill="#1e71c2"/>
<rect x="237.10" y="159.56" width="15.05" height="11.60" fill="#1e71c2"/>
<rect x="252.10" y="159.56" width="15.05" height="11.60" fill="#1e71c2"/>
<rect x="267.10" y="159.56" width="15.05" height="11.60" fill="#1e71c2"/>
<rect x="282.10" y="159.56" width="15.05" height="11.60" fill="#1e71c2"/>
<rect x="297.10" y="159.56" width="15.05" height="11.60" fill="#1e71c2"/>
<rect x="312.10" y="159.56" width="15.05" height="11.60" fill="#b5dbec"/>
<rect x="327.10" y="159.56" width="15.05" height="11.60" fill="#1e71c2"/>
<rect x="342.10" y="159.56" width="15.05" height="11.60" fill="#1e71c2"/>
<rect x="357.10" y="159.56" width="15.05" height="11.60" fill="#1e71c2"/>
<rect x="372.10" y="159.56" width="15.05" height="11.60" fill="#1e71c2"/>
<rect x="237.10" y="171.11" width="15.05" height="11.60" fill="#1e71c2"/>
<rect x="252.10" y="171.11" width="15.05" height="11.60" fill="#1e71c2"/>
<rect x="267.10" y="171.11" width="15.05" height="11.60" fill="#1e71c2"/>
<rect x="282.10" y="171.11" width="15.05" height="11.60" fill="#1e71c2"/>
<rect x="297.10" y="171.11" width="15.05" height="11.60" fill="#1e71c2"/>
<rect x="312.10" y="171.11" width="15.05" height="11.60" fill="#b5dbec"/>
<rect x="327.10" y="171.11" width="15.05" height="11.60" fill="#b5dbec"/>
<rect x="342.10" y="171.11" width="15.05" height="11.60" fill="#1e71c2"/>
<rect x="357.10" y="171.11" width="15.05" height="11.60" fill="#1e71c2"/>
<rect x="372.10" y="171.11" width="15.05" height="11.60" fill="#1e71c2"/>
<rect x="237.10" y="182.66" width="15.05" height="11.60" fill="#1e71c2"/>
<rect x="252.10" y="182.66" width="15.05" height="11.60" fill="#1e71c2"/>
<rect x="267.10" y="182.66" width="15.05" height="11.60" fill="#1e71c2"/>
<rect x="282.10" y="182.66" width="15.05" height="11.60" fill="#1e71c2"/>
<rect x="297.10" y="182.66" width="15.05" height="11.60" fill="#1e71c2"/>
<rect x="312.10" y="182.66" width="15.05" height="11.60" fill="#1e71c2"/>
<rect x="327.10" y="182.66" width="15.05" height="11.60" fill="#1e71c2"/>
<rect x="342.10" y="182.66" width="15.05" height="11.60" fill="#1e71c2"/>
<rect x="357.10" y="182.66" width="15.05" height="11.60" fill="#92c8e2"/>
<rect x="372.10" y="182.66" width="15.05" height="11.60" fill="#1e71c2"/>
<rect x="237.10" y="194.21" width="15.05" height="11.60" fill="#1e71c2"/>
<rect x="252.10" y="194.21" width="15.05" height="11.60" fill="#1e71c2"/>
<rect x="267.10" y="194.21" width="15.05" height="11.60" fill="#1e71c2"/>
<rect x="282.10" y="194.21" width="15.05" height="11.60" fill="#1e71c2"/>
<rect x="297.10" y="194.21" width="15.05" height="11.60" fill="#1e71c2"/>
<rect x="312.10" y="194.21" width="15.05" height="11.60" fill="#1e71c2"/>
<rect x="327.10" y="194.21" width="15.05" height="11.60" fill="#1e71c2"/>
<rect x="342.10" y="194.21" width="15.05" height="11.60" fill="#1e71c2"/>
<rect x="357.10" y="194.21" width="15.05" height="11.60" fill="#92c8e2"/>
<rect x="372.10" y="194.21" width="15.05" height="11.60" fill="#1e71c2"/>
<rect x="237.10" y="205.75" width="15.05" height="11.60" fill="#1e71c2"/>
<rect x="252.10" y="205.75" width="15.05" height="11.60" fill="#1e71c2"/>
<rect x="267.10" y="205.75" width="15.05" height="11.60" fill="#1e71c2"/>
<rect x="282.10" y="205.75" width="15.05" height="11.60" fill="#1e71c2"/>
<rect x="297.10" y="205.75" width="15.05" height="11.60" fill="#1e71c2"/>
<rect x="312.10" y="205.75" width="15.05" height="11.60" fill="#6aaed6"/>
<rect x="327.10" y="205.75" width="15.05" height="11.60" fill="#1e71c2"/>
<rect x="342.10" y="205.75" width="15.05" height="11.60" fill="#1e71c2"/>
<rect x="357.10" y="205.75" width="15.05" height="11.60" fill="#92c8e2"/>
<rect x="372.10" y="205.75" width="15.05" height="11.60" fill="#1e71c2"/>
<rect x="237.10" y="217.30" width="15.05" height="11.60" fill="#b5dbec"/>
<rect x="252.10" y="217.30" width="15.05" height="11.60" fill="#1e71c2"/>
<rect x="267.10" y="217.30" width="15.05" height="11.60" fill="#1e71c2"/>
<rect x="282.10" y="217.30" width="15.05" height="11.60" fill="#1e71c2"/>
<rect x="297.10" y="217.30" width="15.05" height="11.60" fill="#1e71c2"/>
<rect x="312.10" y="217.30" width="15.05" height="11.60" fill="#d9eef4"/>
<rect x="327.10" y="217.30" width="15.05" height="11.60" fill="#d9eef4"/>
<rect x="342.10" y="217.30" width="15.05" height="11.60" fill="#1e71c2"/>
<rect x="357.10" y="217.30" width="15.05" height="11.60" fill="#1e71c2"/>
<rect x="372.10" y="217.30" width="15.05" height="11.60" fill="#1e71c2"/>
<rect x="237.10" y="228.85" width="15.05" height="11.60" fill="#fbf6c4"/>
<rect x="252.10" y="228.85" width="15.05" height="11.60" fill="#1e71c2"/>
<rect x="267.10" y="228.85" width="15.05" height="11.60" fill="#1e71c2"/>
<rect x="282.10" y="228.85" width="15.05" height="11.60" fill="#1e71c2"/>
<rect x="297.10" y="228.85" width="15.05" height="11.60" fill="#1e71c2"/>
<rect x="312.10" y="228.85" width="15.05" height="11.60" fill="#fbf6c4"/>
<rect x="327.10" y="228.85" width="15.05" height="11.60" fill="#1e71c2"/>
<rect x="342.10" y="228.85" width="15.05" height="11.60" fill="#1e71c2"/>
<rect x="357.10" y="228.85" width="15.05" height="11.60" fill="#1e71c2"/>
<rect x="372.10" y="228.85" width="15.05" height="11.60" fill="#1e71c2"/>
<rect x="237.10" y="240.39" width="15.05" height="11.60" fill="#d9eef4"/>
<rect x="252.10" y="240.39" width="15.05" height="11.60" fill="#6aaed6"/>
<rect x="267.10" y="240.39" width="15.05" height="11.60" fill="#d9eef4"/>
<rect x="282.10" y="240.39" width="15.05" height="11.60" fill="#1e71c2"/>
<rect x="297.10" y="240.39" width="15.05" height="11.60" fill="#d9eef4"/>
<rect x="312.10" y="240.39" width="15.05" height="11.60" fill="#fde8a2"/>
<rect x="327.10" y="240.39" width="15.05" height="11.60" fill="#fbf6c4"/>
<rect x="342.10" y="240.39" width="15.05" height="11.60" fill="#1e71c2"/>
<rect x="357.10" y="240.39" width="15.05" height="11.60" fill="#fbf6c4"/>
<rect x="372.10" y="240.39" width="15.05" height="11.60" fill="#92c8e2"/>
<rect x="237.10" y="251.94" width="15.05" height="11.60" fill="#1e71c2"/>
<rect x="252.10" y="251.94" width="15.05" height="11.60" fill="#1e71c2"/>
<rect x="267.10" y="251.94" width="15.05" height="11.60" fill="#1e71c2"/>
<rect x="282.10" y="251.94" width="15.05" height="11.60" fill="#1e71c2"/>
<rect x="297.10" y="251.94" width="15.05" height="11.60" fill="#1e71c2"/>
<rect x="312.10" y="251.94" width="15.05" height="11.60" fill="#b5dbec"/>
<rect x="327.10" y="251.94" width="15.05" height="11.60" fill="#1e71c2"/>
<rect x="342.10" y="251.94" width="15.05" height="11.60" fill="#1e71c2"/>
<rect x="357.10" y="251.94" width="15.05" height="11.60" fill="#1e71c2"/>
<rect x="372.10" y="251.94" width="15.05" height="11.60" fill="#1e71c2"/>
<rect x="237.10" y="263.49" width="15.05" height="11.60" fill="#1e71c2"/>
<rect x="252.10" y="263.49" width="15.05" height="11.60" fill="#1e71c2"/>
<rect x="267.10" y="263.49" width="15.05" height="11.60" fill="#1e71c2"/>
<rect x="282.10" y="263.49" width="15.05" height="11.60" fill="#1e71c2"/>
<rect x="297.10" y="263.49" width="15.05" height="11.60" fill="#1e71c2"/>
<rect x="312.10" y="263.49" width="15.05" height="11.60" fill="#fbf6c4"/>
<rect x="327.10" y="263.49" width="15.05" height="11.60" fill="#1e71c2"/>
<rect x="342.10" y="263.49" width="15.05" height="11.60" fill="#1e71c2"/>
<rect x="357.10" y="263.49" width="15.05" height="11.60" fill="#1e71c2"/>
<rect x="372.10" y="263.49" width="15.05" height="11.60" fill="#1e71c2"/>
<rect x="237.10" y="275.03" width="15.05" height="11.60" fill="#b5dbec"/>
<rect x="252.10" y="275.03" width="15.05" height="11.60" fill="#eaf5e4"/>
<rect x="267.10" y="275.03" width="15.05" height="11.60" fill="#1e71c2"/>
<rect x="282.10" y="275.03" width="15.05" height="11.60" fill="#d9eef4"/>
<rect x="297.10" y="275.03" width="15.05" height="11.60" fill="#eaf5e4"/>
<rect x="312.10" y="275.03" width="15.05" height="11.60" fill="#eaf5e4"/>
<rect x="327.10" y="275.03" width="15.05" height="11.60" fill="#fbf6c4"/>
<rect x="342.10" y="275.03" width="15.05" height="11.60" fill="#fbf6c4"/>
<rect x="357.10" y="275.03" width="15.05" height="11.60" fill="#eaf5e4"/>
<rect x="372.10" y="275.03" width="15.05" height="11.60" fill="#1e71c2"/>
<rect x="237.10" y="286.58" width="15.05" height="11.60" fill="#1e71c2"/>
<rect x="252.10" y="286.58" width="15.05" height="11.60" fill="#1e71c2"/>
<rect x="267.10" y="286.58" width="15.05" height="11.60" fill="#1e71c2"/>
<rect x="282.10" y="286.58" width="15.05" height="11.60" fill="#1e71c2"/>
<rect x="297.10" y="286.58" width="15.05" height="11.60" fill="#b5dbec"/>
<rect x="312.10" y="286.58" width="15.05" height="11.60" fill="#d9eef4"/>
<rect x="327.10" y="286.58" width="15.05" height="11.60" fill="#1e71c2"/>
<rect x="342.10" y="286.58" width="15.05" height="11.60" fill="#92c8e2"/>
<rect x="357.10" y="286.58" width="15.05" height="11.60" fill="#1e71c2"/>
<rect x="372.10" y="286.58" width="15.05" height="11.60" fill="#1e71c2"/>
<rect x="237.10" y="298.13" width="15.05" height="11.60" fill="#1e71c2"/>
<rect x="252.10" y="298.13" width="15.05" height="11.60" fill="#1e71c2"/>
<rect x="267.10" y="298.13" width="15.05" height="11.60" fill="#1e71c2"/>
<rect x="282.10" y="298.13" width="15.05" height="11.60" fill="#1e71c2"/>
<rect x="297.10" y="298.13" width="15.05" height="11.60" fill="#6aaed6"/>
<rect x="312.10" y="298.13" width="15.05" height="11.60" fill="#92c8e2"/>
<rect x="327.10" y="298.13" width="15.05" height="11.60" fill="#1e71c2"/>
<rect x="342.10" y="298.13" width="15.05" height="11.60" fill="#b5dbec"/>
<rect x="357.10" y="298.13" width="15.05" height="11.60" fill="#1e71c2"/>
<rect x="372.10" y="298.13" width="15.05" height="11.60" fill="#1e71c2"/>
<rect x="237.10" y="309.68" width="15.05" height="11.60" fill="#1e71c2"/>
<rect x="252.10" y="309.68" width="15.05" height="11.60" fill="#1e71c2"/>
<rect x="267.10" y="309.68" width="15.05" height="11.60" fill="#1e71c2"/>
<rect x="282.10" y="309.68" width="15.05" height="11.60" fill="#1e71c2"/>
<rect x="297.10" y="309.68" width="15.05" height="11.60" fill="#1e71c2"/>
<rect x="312.10" y="309.68" width="15.05" height="11.60" fill="#92c8e2"/>
<rect x="327.10" y="309.68" width="15.05" height="11.60" fill="#1e71c2"/>
<rect x="342.10" y="309.68" width="15.05" height="11.60" fill="#1e71c2"/>
<rect x="357.10" y="309.68" width="15.05" height="11.60" fill="#1e71c2"/>
<rect x="372.10" y="309.68" width="15.05" height="11.60" fill="#1e71c2"/>
<rect x="237.10" y="321.22" width="15.05" height="11.60" fill="#1e71c2"/>
<rect x="252.10" y="321.22" width="15.05" height="11.60" fill="#1e71c2"/>
<rect x="267.10" y="321.22" width="15.05" height="11.60" fill="#1e71c2"/>
<rect x="282.10" y="321.22" width="15.05" height="11.60" fill="#1e71c2"/>
<rect x="297.10" y="321.22" width="15.05" height="11.60" fill="#1e71c2"/>
<rect x="312.10" y="321.22" width="15.05" height="11.60" fill="#1e71c2"/>
<rect x="327.10" y="321.22" width="15.05" height="11.60" fill="#fde8a2"/>
<rect x="342.10" y="321.22" width="15.05" height="11.60" fill="#1e71c2"/>
<rect x="357.10" y="321.22" width="15.05" height="11.60" fill="#1e71c2"/>
<rect x="372.10" y="321.22" width="15.05" height="11.60" fill="#1e71c2"/>
<rect x="237.10" y="332.77" width="15.05" height="11.60" fill="#1e71c2"/>
<rect x="252.10" y="332.77" width="15.05" height="11.60" fill="#1e71c2"/>
<rect x="267.10" y="332.77" width="15.05" height="11.60" fill="#1e71c2"/>
<rect x="282.10" y="332.77" width="15.05" height="11.60" fill="#1e71c2"/>
<rect x="297.10" y="332.77" width="15.05" height="11.60" fill="#1e71c2"/>
<rect x="312.10" y="332.77" width="15.05" height="11.60" fill="#b5dbec"/>
<rect x="327.10" y="332.77" width="15.05" height="11.60" fill="#92c8e2"/>
<rect x="342.10" y="332.77" width="15.05" height="11.60" fill="#1e71c2"/>
<rect x="357.10" y="332.77" width="15.05" height="11.60" fill="#1e71c2"/>
<rect x="372.10" y="332.77" width="15.05" height="11.60" fill="#1e71c2"/>
<rect x="237.10" y="344.32" width="15.05" height="11.60" fill="#1e71c2"/>
<rect x="252.10" y="344.32" width="15.05" height="11.60" fill="#1e71c2"/>
<rect x="267.10" y="344.32" width="15.05" height="11.60" fill="#1e71c2"/>
<rect x="282.10" y="344.32" width="15.05" height="11.60" fill="#1e71c2"/>
<rect x="297.10" y="344.32" width="15.05" height="11.60" fill="#1e71c2"/>
<rect x="312.10" y="344.32" width="15.05" height="11.60" fill="#b5dbec"/>
<rect x="327.10" y="344.32" width="15.05" height="11.60" fill="#1e71c2"/>
<rect x="342.10" y="344.32" width="15.05" height="11.60" fill="#1e71c2"/>
<rect x="357.10" y="344.32" width="15.05" height="11.60" fill="#1e71c2"/>
<rect x="372.10" y="344.32" width="15.05" height="11.60" fill="#1e71c2"/>
<rect x="237.10" y="355.86" width="15.05" height="11.60" fill="#1e71c2"/>
<rect x="252.10" y="355.86" width="15.05" height="11.60" fill="#1e71c2"/>
<rect x="267.10" y="355.86" width="15.05" height="11.60" fill="#1e71c2"/>
<rect x="282.10" y="355.86" width="15.05" height="11.60" fill="#1e71c2"/>
<rect x="297.10" y="355.86" width="15.05" height="11.60" fill="#1e71c2"/>
<rect x="312.10" y="355.86" width="15.05" height="11.60" fill="#b5dbec"/>
<rect x="327.10" y="355.86" width="15.05" height="11.60" fill="#b5dbec"/>
<rect x="342.10" y="355.86" width="15.05" height="11.60" fill="#1e71c2"/>
<rect x="357.10" y="355.86" width="15.05" height="11.60" fill="#1e71c2"/>
<rect x="372.10" y="355.86" width="15.05" height="11.60" fill="#1e71c2"/>
<rect x="237.10" y="367.41" width="15.05" height="11.60" fill="#1e71c2"/>
<rect x="252.10" y="367.41" width="15.05" height="11.60" fill="#1e71c2"/>
<rect x="267.10" y="367.41" width="15.05" height="11.60" fill="#1e71c2"/>
<rect x="282.10" y="367.41" width="15.05" height="11.60" fill="#1e71c2"/>
<rect x="297.10" y="367.41" width="15.05" height="11.60" fill="#1e71c2"/>
<rect x="312.10" y="367.41" width="15.05" height="11.60" fill="#1e71c2"/>
<rect x="327.10" y="367.41" width="15.05" height="11.60" fill="#b5dbec"/>
<rect x="342.10" y="367.41" width="15.05" height="11.60" fill="#1e71c2"/>
<rect x="357.10" y="367.41" width="15.05" height="11.60" fill="#1e71c2"/>
<rect x="372.10" y="367.41" width="15.05" height="11.60" fill="#1e71c2"/>
<rect x="237.10" y="378.96" width="15.05" height="11.60" fill="#1e71c2"/>
<rect x="252.10" y="378.96" width="15.05" height="11.60" fill="#1e71c2"/>
<rect x="267.10" y="378.96" width="15.05" height="11.60" fill="#1e71c2"/>
<rect x="282.10" y="378.96" width="15.05" height="11.60" fill="#1e71c2"/>
<rect x="297.10" y="378.96" width="15.05" height="11.60" fill="#1e71c2"/>
<rect x="312.10" y="378.96" width="15.05" height="11.60" fill="#92c8e2"/>
<rect x="327.10" y="378.96" width="15.05" height="11.60" fill="#b5dbec"/>
<rect x="342.10" y="378.96" width="15.05" height="11.60" fill="#1e71c2"/>
<rect x="357.10" y="378.96" width="15.05" height="11.60" fill="#1e71c2"/>
<rect x="372.10" y="378.96" width="15.05" height="11.60" fill="#1e71c2"/>
<rect x="237.10" y="390.50" width="15.05" height="11.60" fill="#1e71c2"/>
<rect x="252.10" y="390.50" width="15.05" height="11.60" fill="#1e71c2"/>
<rect x="267.10" y="390.50" width="15.05" height="11.60" fill="#1e71c2"/>
<rect x="282.10" y="390.50" width="15.05" height="11.60" fill="#1e71c2"/>
<rect x="297.10" y="390.50" width="15.05" height="11.60" fill="#1e71c2"/>
<rect x="312.10" y="390.50" width="15.05" height="11.60" fill="#92c8e2"/>
<rect x="327.10" y="390.50" width="15.05" height="11.60" fill="#1e71c2"/>
<rect x="342.10" y="390.50" width="15.05" height="11.60" fill="#1e71c2"/>
<rect x="357.10" y="390.50" width="15.05" height="11.60" fill="#1e71c2"/>
<rect x="372.10" y="390.50" width="15.05" height="11.60" fill="#1e71c2"/>
<rect x="237.10" y="402.05" width="15.05" height="11.60" fill="#1e71c2"/>
<rect x="252.10" y="402.05" width="15.05" height="11.60" fill="#1e71c2"/>
<rect x="267.10" y="402.05" width="15.05" height="11.60" fill="#1e71c2"/>
<rect x="282.10" y="402.05" width="15.05" height="11.60" fill="#1e71c2"/>
<rect x="297.10" y="402.05" width="15.05" height="11.60" fill="#1e71c2"/>
<rect x="312.10" y="402.05" width="15.05" height="11.60" fill="#1e71c2"/>
<rect x="327.10" y="402.05" width="15.05" height="11.60" fill="#fbf6c4"/>
<rect x="342.10" y="402.05" width="15.05" height="11.60" fill="#1e71c2"/>
<rect x="357.10" y="402.05" width="15.05" height="11.60" fill="#1e71c2"/>
<rect x="372.10" y="402.05" width="15.05" height="11.60" fill="#1e71c2"/>
<path d="M237.10 32.55H387.10M237.10 44.09H387.10M237.10 55.64H387.10M237.10 67.19H387.10M237.10 78.73H387.10M237.10 90.28H387.10M237.10 101.83H387.10M237.10 113.38H387.10M237.10 124.92H387.10M237.10 136.47H387.10M237.10 148.02H387.10M237.10 159.56H387.10M237.10 171.11H387.10M237.10 182.66H387.10M237.10 194.21H387.10M237.10 205.75H387.10M237.10 217.30H387.10M237.10 228.85H387.10M237.10 240.39H387.10M237.10 251.94H387.10M237.10 263.49H387.10M237.10 275.03H387.10M237.10 286.58H387.10M237.10 298.13H387.10M237.10 309.68H387.10M237.10 321.22H387.10M237.10 332.77H387.10M237.10 344.32H387.10M237.10 355.86H387.10M237.10 367.41H387.10M237.10 378.96H387.10M237.10 390.50H387.10M237.10 402.05H387.10M252.10 21.00V413.60M267.10 21.00V413.60M282.10 21.00V413.60M297.10 21.00V413.60M312.10 21.00V413.60M327.10 21.00V413.60M342.10 21.00V413.60M357.10 21.00V413.60M372.10 21.00V413.60" stroke="#b0a89c" stroke-width="0.5" fill="none"/>
<text x="388.9" y="29.27" font-size="7" font-style="italic" fill="#1e1e1e" stroke="#1e1e1e" stroke-width="0.14">K00008</text>
<text x="418.7" y="29.27" font-size="7" font-style="italic" fill="#1e1e1e" stroke="#1e1e1e" stroke-width="0.14">Anaerostipes hadrus</text>
<text x="388.9" y="40.82" font-size="7" font-style="italic" fill="#1e1e1e" stroke="#1e1e1e" stroke-width="0.14">K00008</text>
<text x="418.7" y="40.82" font-size="7" font-style="italic" fill="#1e1e1e" stroke="#1e1e1e" stroke-width="0.14">Flavonifractor plautii</text>
<text x="388.9" y="52.37" font-size="7" font-style="italic" fill="#1e1e1e" stroke="#1e1e1e" stroke-width="0.14">K00008</text>
<text x="418.7" y="52.37" font-size="7" font-style="italic" fill="#1e1e1e" stroke="#1e1e1e" stroke-width="0.14">Klebsiella michiganensis</text>
<text x="388.9" y="63.91" font-size="7" font-style="italic" fill="#1e1e1e" stroke="#1e1e1e" stroke-width="0.14">K00176</text>
<text x="418.7" y="63.91" font-size="7" font-style="italic" fill="#1e1e1e" stroke="#1e1e1e" stroke-width="0.14">Acidaminococcus intestini</text>
<text x="388.9" y="75.46" font-size="7" font-style="italic" fill="#1e1e1e" stroke="#1e1e1e" stroke-width="0.14">K00176</text>
<text x="418.7" y="75.46" font-size="7" font-style="italic" fill="#1e1e1e" stroke="#1e1e1e" stroke-width="0.14">Acidaminococcus intestini CAG 325</text>
<text x="388.9" y="87.01" font-size="7" font-style="italic" fill="#1e1e1e" stroke="#1e1e1e" stroke-width="0.14">K00176</text>
<text x="418.7" y="87.01" font-size="7" font-style="italic" fill="#1e1e1e" stroke="#1e1e1e" stroke-width="0.14">Bacteroides dorei</text>
<text x="388.9" y="98.56" font-size="7" font-style="italic" fill="#1e1e1e" stroke="#1e1e1e" stroke-width="0.14">K00176</text>
<text x="418.7" y="98.56" font-size="7" font-style="italic" fill="#1e1e1e" stroke="#1e1e1e" stroke-width="0.14">Bacteroides massiliensis</text>
<text x="388.9" y="110.10" font-size="7" font-style="italic" fill="#1e1e1e" stroke="#1e1e1e" stroke-width="0.14">K00176</text>
<text x="418.7" y="110.10" font-size="7" font-style="italic" fill="#1e1e1e" stroke="#1e1e1e" stroke-width="0.14">Bacteroides vulgatus</text>
<text x="388.9" y="121.65" font-size="7" font-style="italic" fill="#1e1e1e" stroke="#1e1e1e" stroke-width="0.14">K00176</text>
<text x="418.7" y="121.65" font-size="7" font-style="italic" fill="#1e1e1e" stroke="#1e1e1e" stroke-width="0.14">Bacteroides vulgatus CAG 6</text>
<text x="388.9" y="133.20" font-size="7" font-style="italic" fill="#1e1e1e" stroke="#1e1e1e" stroke-width="0.14">K00176</text>
<text x="418.7" y="133.20" font-size="7" font-style="italic" fill="#1e1e1e" stroke="#1e1e1e" stroke-width="0.14">Desulfovibrio piger</text>
<text x="388.9" y="144.74" font-size="7" font-style="italic" fill="#1e1e1e" stroke="#1e1e1e" stroke-width="0.14">K00176</text>
<text x="418.7" y="144.74" font-size="7" font-style="italic" fill="#1e1e1e" stroke="#1e1e1e" stroke-width="0.14">Eubacterium siraeum</text>
<text x="388.9" y="156.29" font-size="7" font-style="italic" fill="#1e1e1e" stroke="#1e1e1e" stroke-width="0.14">K01685</text>
<text x="418.7" y="156.29" font-size="7" font-style="italic" fill="#1e1e1e" stroke="#1e1e1e" stroke-width="0.14">Citrobacter europaeus</text>
<text x="388.9" y="167.84" font-size="7" font-style="italic" fill="#1e1e1e" stroke="#1e1e1e" stroke-width="0.14">K01685</text>
<text x="418.7" y="167.84" font-size="7" font-style="italic" fill="#1e1e1e" stroke="#1e1e1e" stroke-width="0.14">Citrobacter freundii</text>
<text x="388.9" y="179.38" font-size="7" font-style="italic" fill="#1e1e1e" stroke="#1e1e1e" stroke-width="0.14">K01685</text>
<text x="418.7" y="179.38" font-size="7" font-style="italic" fill="#1e1e1e" stroke="#1e1e1e" stroke-width="0.14">Citrobacter youngae</text>
<text x="388.9" y="190.93" font-size="7" font-style="italic" fill="#1e1e1e" stroke="#1e1e1e" stroke-width="0.14">K01685</text>
<text x="418.7" y="190.93" font-size="7" font-style="italic" fill="#1e1e1e" stroke="#1e1e1e" stroke-width="0.14">Cronobacter malonaticus</text>
<text x="388.9" y="202.48" font-size="7" font-style="italic" fill="#1e1e1e" stroke="#1e1e1e" stroke-width="0.14">K01685</text>
<text x="418.7" y="202.48" font-size="7" font-style="italic" fill="#1e1e1e" stroke="#1e1e1e" stroke-width="0.14">Cronobacter sakazakii</text>
<text x="388.9" y="214.03" font-size="7" font-style="italic" fill="#1e1e1e" stroke="#1e1e1e" stroke-width="0.14">K01685</text>
<text x="418.7" y="214.03" font-size="7" font-style="italic" fill="#1e1e1e" stroke="#1e1e1e" stroke-width="0.14">Enterobacter cloacae complex</text>
<text x="388.9" y="225.57" font-size="7" font-style="italic" fill="#1e1e1e" stroke="#1e1e1e" stroke-width="0.14">K01685</text>
<text x="418.7" y="225.57" font-size="7" font-style="italic" fill="#1e1e1e" stroke="#1e1e1e" stroke-width="0.14">Klebsiella aerogenes</text>
<text x="388.9" y="237.12" font-size="7" font-style="italic" fill="#1e1e1e" stroke="#1e1e1e" stroke-width="0.14">K01685</text>
<text x="418.7" y="237.12" font-size="7" font-style="italic" fill="#1e1e1e" stroke="#1e1e1e" stroke-width="0.14">Klebsiella oxytoca</text>
<text x="388.9" y="248.67" font-size="7" font-style="italic" fill="#1e1e1e" stroke="#1e1e1e" stroke-width="0.14">K01685</text>
<text x="418.7" y="248.67" font-size="7" font-style="italic" fill="#1e1e1e" stroke="#1e1e1e" stroke-width="0.14">Klebsiella pneumoniae</text>
<text x="388.9" y="260.21" font-size="7" font-style="italic" fill="#1e1e1e" stroke="#1e1e1e" stroke-width="0.14">K01685</text>
<text x="418.7" y="260.21" font-size="7" font-style="italic" fill="#1e1e1e" stroke="#1e1e1e" stroke-width="0.14">Kluyvera ascorbata</text>
<text x="388.9" y="271.76" font-size="7" font-style="italic" fill="#1e1e1e" stroke="#1e1e1e" stroke-width="0.14">K01685</text>
<text x="418.7" y="271.76" font-size="7" font-style="italic" fill="#1e1e1e" stroke="#1e1e1e" stroke-width="0.14">Kluyvera georgiana</text>
<text x="388.9" y="283.31" font-size="7" font-style="italic" fill="#1e1e1e" stroke="#1e1e1e" stroke-width="0.14">K01685</text>
<text x="418.7" y="283.31" font-size="7" font-style="italic" fill="#1e1e1e" stroke="#1e1e1e" stroke-width="0.14">Roseburia hominis</text>
<text x="388.9" y="294.85" font-size="7" font-style="italic" fill="#1e1e1e" stroke="#1e1e1e" stroke-width="0.14">K01685</text>
<text x="418.7" y="294.85" font-size="7" font-style="italic" fill="#1e1e1e" stroke="#1e1e1e" stroke-width="0.14">Roseburia intestinalis</text>
<text x="388.9" y="306.40" font-size="7" font-style="italic" fill="#1e1e1e" stroke="#1e1e1e" stroke-width="0.14">K01685</text>
<text x="418.7" y="306.40" font-size="7" font-style="italic" fill="#1e1e1e" stroke="#1e1e1e" stroke-width="0.14">Roseburia intestinalis CAG 13</text>
<text x="388.9" y="317.95" font-size="7" font-style="italic" fill="#1e1e1e" stroke="#1e1e1e" stroke-width="0.14">K09988</text>
<text x="418.7" y="317.95" font-size="7" font-style="italic" fill="#1e1e1e" stroke="#1e1e1e" stroke-width="0.14">Citrobacter europaeus</text>
<text x="388.9" y="329.50" font-size="7" font-style="italic" fill="#1e1e1e" stroke="#1e1e1e" stroke-width="0.14">K09988</text>
<text x="418.7" y="329.50" font-size="7" font-style="italic" fill="#1e1e1e" stroke="#1e1e1e" stroke-width="0.14">Citrobacter koseri</text>
<text x="388.9" y="341.04" font-size="7" font-style="italic" fill="#1e1e1e" stroke="#1e1e1e" stroke-width="0.14">K09988</text>
<text x="418.7" y="341.04" font-size="7" font-style="italic" fill="#1e1e1e" stroke="#1e1e1e" stroke-width="0.14">Citrobacter portucalensis</text>
<text x="388.9" y="352.59" font-size="7" font-style="italic" fill="#1e1e1e" stroke="#1e1e1e" stroke-width="0.14">K09988</text>
<text x="418.7" y="352.59" font-size="7" font-style="italic" fill="#1e1e1e" stroke="#1e1e1e" stroke-width="0.14">Citrobacter werkmanii</text>
<text x="388.9" y="364.14" font-size="7" font-style="italic" fill="#1e1e1e" stroke="#1e1e1e" stroke-width="0.14">K09988</text>
<text x="418.7" y="364.14" font-size="7" font-style="italic" fill="#1e1e1e" stroke="#1e1e1e" stroke-width="0.14">Citrobacter youngae</text>
<text x="388.9" y="375.68" font-size="7" font-style="italic" fill="#1e1e1e" stroke="#1e1e1e" stroke-width="0.14">K09988</text>
<text x="418.7" y="375.68" font-size="7" font-style="italic" fill="#1e1e1e" stroke="#1e1e1e" stroke-width="0.14">Clostridium saccharolyticum</text>
<text x="388.9" y="387.23" font-size="7" font-style="italic" fill="#1e1e1e" stroke="#1e1e1e" stroke-width="0.14">K09988</text>
<text x="418.7" y="387.23" font-size="7" font-style="italic" fill="#1e1e1e" stroke="#1e1e1e" stroke-width="0.14">Enterobacter cloacae complex</text>
<text x="388.9" y="398.78" font-size="7" font-style="italic" fill="#1e1e1e" stroke="#1e1e1e" stroke-width="0.14">K09988</text>
<text x="418.7" y="398.78" font-size="7" font-style="italic" fill="#1e1e1e" stroke="#1e1e1e" stroke-width="0.14">Escherichia coli</text>
<text x="388.9" y="410.32" font-size="7" font-style="italic" fill="#1e1e1e" stroke="#1e1e1e" stroke-width="0.14">K09988</text>
<text x="418.7" y="410.32" font-size="7" font-style="italic" fill="#1e1e1e" stroke="#1e1e1e" stroke-width="0.14">Klebsiella pneumoniae</text>
<rect x="532.2" y="21.2" width="4" height="58.6" fill="url(#gB)"/>
<text x="537.7" y="23.0" font-size="4.2" fill="#3a3a3a">0.4</text>
<text x="537.7" y="37.5" font-size="4.2" fill="#3a3a3a">0.3</text>
<text x="537.7" y="52.0" font-size="4.2" fill="#3a3a3a">0.2</text>
<text x="537.7" y="66.5" font-size="4.2" fill="#3a3a3a">0.1</text>
<text x="537.7" y="80.1" font-size="4.2" fill="#3a3a3a">0</text>
<text transform="translate(242.60,416.1) rotate(90)" font-size="6.8" fill="#1a1a1a" stroke="#1a1a1a" stroke-width="0.12">tPB1</text>
<text transform="translate(257.60,416.1) rotate(90)" font-size="6.8" fill="#1a1a1a" stroke="#1a1a1a" stroke-width="0.12">tPB2</text>
<text transform="translate(272.60,416.1) rotate(90)" font-size="6.8" fill="#1a1a1a" stroke="#1a1a1a" stroke-width="0.12">tPB3</text>
<text transform="translate(287.60,416.1) rotate(90)" font-size="6.8" fill="#1a1a1a" stroke="#1a1a1a" stroke-width="0.12">tPB4</text>
<text transform="translate(302.60,416.1) rotate(90)" font-size="6.8" fill="#1a1a1a" stroke="#1a1a1a" stroke-width="0.12">tPB5</text>
<text transform="translate(317.60,416.1) rotate(90)" font-size="6.8" fill="#1a1a1a" stroke="#1a1a1a" stroke-width="0.12">tCMH1</text>
<text transform="translate(332.60,416.1) rotate(90)" font-size="6.8" fill="#1a1a1a" stroke="#1a1a1a" stroke-width="0.12">tCMH2</text>
<text transform="translate(347.60,416.1) rotate(90)" font-size="6.8" fill="#1a1a1a" stroke="#1a1a1a" stroke-width="0.12">tCMH3</text>
<text transform="translate(362.60,416.1) rotate(90)" font-size="6.8" fill="#1a1a1a" stroke="#1a1a1a" stroke-width="0.12">tCMH4</text>
<text transform="translate(377.60,416.1) rotate(90)" font-size="6.8" fill="#1a1a1a" stroke="#1a1a1a" stroke-width="0.12">tCMH5</text>
<path d="M12.50 49.81V287.48M12.50 49.81H23.30M12.50 287.48H20.00M23.30 30.09V69.53M23.30 30.09H29.40M23.30 69.53H24.90M29.40 25.85V34.32M29.40 25.85H30.73M29.40 34.32H34.40M30.73 23.02V28.67M30.73 23.02H34.40M30.73 28.67H34.40M24.90 44.91V94.14M24.90 44.91H27.10M24.90 94.14H27.10M27.10 39.97V49.86M27.10 39.97H34.40M27.10 49.86H28.29M28.29 45.62V54.09M28.29 45.62H34.40M28.29 54.09H32.72M32.72 51.27V56.92M32.72 51.27H34.40M32.72 56.92H34.40M27.10 62.57V125.72M27.10 62.57H34.40M27.10 125.72H29.04M29.04 88.34V163.10M29.04 88.34H29.94M29.04 163.10H29.94M29.94 77.40V99.29M29.94 77.40H30.84M29.94 99.29H30.84M30.84 71.04V83.75M30.84 71.04H32.28M30.84 83.75H31.74M32.28 68.22V73.87M32.28 68.22H34.40M32.28 73.87H34.40M31.74 79.51V87.99M31.74 79.51H34.40M31.74 87.99H32.64M32.64 85.16V90.81M32.64 85.16H34.40M32.64 90.81H34.40M30.84 96.46V102.11M30.84 96.46H34.40M30.84 102.11H34.40M29.94 144.30V181.90M29.94 144.30H30.84M29.94 181.90H32.53M30.84 127.18V161.42M30.84 127.18H31.74M30.84 161.42H31.74M31.74 110.58V143.77M31.74 110.58H32.64M31.74 143.77H32.64M32.64 107.76V113.41M32.64 107.76H34.40M32.64 113.41H34.40M32.64 134.59V152.95M32.64 134.59H33.54M32.64 152.95H34.40M33.54 126.12V143.07M33.54 126.12H33.80M33.54 143.07H33.80M33.80 121.88V130.36M33.80 121.88H33.80M33.80 130.36H34.40M33.80 119.06V124.71M33.80 119.06H34.40M33.80 124.71H34.40M33.80 138.83V147.30M33.80 138.83H33.80M33.80 147.30H34.40M33.80 136.00V141.65M33.80 136.00H34.40M33.80 141.65H34.40M31.74 158.60V164.25M31.74 158.60H34.40M31.74 164.25H34.40M32.53 176.96V186.85M32.53 176.96H33.43M32.53 186.85H34.40M33.43 172.72V181.20M33.43 172.72H33.80M33.43 181.20H34.40M33.80 169.90V175.55M33.80 169.90H34.40M33.80 175.55H34.40M20.00 229.53V345.44M20.00 229.53H26.50M20.00 345.44H25.00M26.50 196.73V262.32M26.50 196.73H29.30M26.50 262.32H28.76M29.30 192.49V200.97M29.30 192.49H34.40M29.30 200.97H30.50M30.50 198.14V203.79M30.50 198.14H34.40M30.50 203.79H34.40M28.76 227.65V297.00M28.76 227.65H30.21M28.76 297.00H29.66M30.21 209.44V245.85M30.21 209.44H34.40M30.21 245.85H31.11M31.11 222.59V269.11M31.11 222.59H32.32M31.11 269.11H32.01M32.32 215.09V230.10M32.32 215.09H34.40M32.32 230.10H33.22M33.22 220.74V239.45M33.22 220.74H34.40M33.22 239.45H33.80M33.80 229.21V249.69M33.80 229.21H33.80M33.80 249.69H33.80M33.80 226.39V232.04M33.80 226.39H34.40M33.80 232.04H34.40M33.80 244.75V254.63M33.80 244.75H33.80M33.80 254.63H34.40M33.80 240.51V248.98M33.80 240.51H33.80M33.80 248.98H34.40M33.80 237.69V243.34M33.80 237.69H34.40M33.80 243.34H34.40M32.01 260.28V277.94M32.01 260.28H34.40M32.01 277.94H32.91M32.91 272.99V282.88M32.91 272.99H33.80M32.91 282.88H34.40M33.80 268.76V277.23M33.80 268.76H33.80M33.80 277.23H34.40M33.80 265.93V271.58M33.80 265.93H34.40M33.80 271.58H34.40M29.66 291.35V302.65M29.66 291.35H31.13M29.66 302.65H30.56M31.13 288.53V294.18M31.13 288.53H34.40M31.13 294.18H34.40M30.56 299.83V305.47M30.56 299.83H34.40M30.56 305.47H34.40M25.00 317.48V373.39M25.00 317.48H27.80M25.00 373.39H26.90M27.80 311.12V323.83M27.80 311.12H34.40M27.80 323.83H28.70M28.70 316.77V330.89M28.70 316.77H34.40M28.70 330.89H29.61M29.61 325.25V336.54M29.61 325.25H31.59M29.61 336.54H30.51M31.59 322.42V328.07M31.59 322.42H34.40M31.59 328.07H34.40M30.51 333.72V339.37M30.51 333.72H34.40M30.51 339.37H34.40M26.90 349.25V397.54M26.90 349.25H27.80M26.90 397.54H28.03M27.80 345.02V353.49M27.80 345.02H34.40M27.80 353.49H28.84M28.84 350.67V356.32M28.84 350.67H34.40M28.84 356.32H34.40M28.03 385.09V409.98M28.03 385.09H30.18M28.03 409.98H29.48M30.18 371.50V398.68M30.18 371.50H31.08M30.18 398.68H31.08M31.08 364.79V378.21M31.08 364.79H32.15M31.08 378.21H31.98M32.15 361.96V367.61M32.15 361.96H34.40M32.15 367.61H34.40M31.98 373.26V383.15M31.98 373.26H34.40M31.98 383.15H32.88M32.88 378.91V387.38M32.88 378.91H34.40M32.88 387.38H33.78M33.78 384.56V390.21M33.78 384.56H34.40M33.78 390.21H34.40M31.08 395.86V401.51M31.08 395.86H34.40M31.08 401.51H34.40M29.48 407.16V412.81M29.48 407.16H34.40M29.48 412.81H34.40" stroke="#8f8f8f" stroke-width="0.55" fill="none"/>
</svg></body></html>
